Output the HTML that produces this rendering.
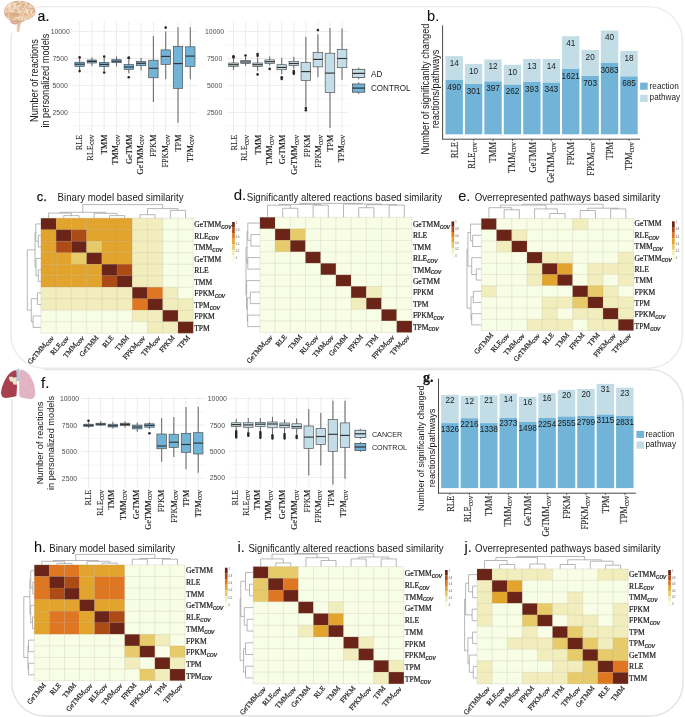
<!DOCTYPE html><html><head><meta charset="utf-8"><title>Figure</title><style>html,body{margin:0;padding:0;background:#fff;overflow:hidden}svg{display:block}</style></head><body>
<svg width="685" height="717" viewBox="0 0 685 717" font-family="'Liberation Sans', Arial, sans-serif">
<rect width="685" height="717" fill="#fff"/>
<path d="M44 6.6 H648 A34 34 0 0 1 682.4 40.6 V334.5 A33.5 33.5 0 0 1 649 368.2 H44 A33 33 0 0 1 11 335.2 V40 A34 34 0 0 1 44 6.6 Z" fill="none" stroke="#ebebeb" stroke-width="1.4"/>
<path d="M44 369.6 H650 A33 33 0 0 1 683 402.6 V683 A33 33 0 0 1 650 716 H44.5 A33 33 0 0 1 11.8 683 V402.6 A33 33 0 0 1 44 369.6 Z" fill="none" stroke="#e2e2e2" stroke-width="1.3"/>
<defs><clipPath id="brainclip"><path d="M4.6 12.6 C4.2 8.6 6.4 5.4 9.6 3.4 C12.6 1.6 16.6 1.1 20.2 1.3 C24.6 1.5 28.6 2.6 31.6 5.0 C34.4 7.3 35.4 10.4 35.0 13.0 C34.6 15.8 32.2 17.6 29.2 18.5 C26.8 19.2 24.4 20.0 22.6 21.6 L17.4 21.4 C14.6 20.8 11.6 20.6 9.0 19.2 C6.4 17.8 4.8 15.4 4.6 12.6 Z"/></clipPath></defs>
<rect x="0" y="0" width="35.6" height="31.8" fill="#fff"/>
<g>
<path d="M16.8 20.6 C17.4 23.6 16.6 28.4 16.9 31.6 C17.6 32.2 18.6 32.2 19.3 31.6 C19.4 28.6 20.2 24.6 21.8 21.4 Z" fill="#e3bf97"/>
<path d="M17.9 22.6 C18.2 25.6 17.8 28.6 17.9 31.0" stroke="#f1dcc0" stroke-width="0.7" fill="none"/>
<path d="M10.2 20.2 C12.6 19.6 16.6 19.8 18.8 20.6 C19.4 22.4 18.4 24.4 15.6 24.5 C12.8 24.6 10.4 23.2 10.2 20.2 Z" fill="#d8a59c"/>
<path d="M11.6 21.8 C13.6 22.6 15.8 22.8 17.8 22.2" stroke="#e9c3b8" stroke-width="0.6" fill="none"/>
<path d="M4.6 12.6 C4.2 8.6 6.4 5.4 9.6 3.4 C12.6 1.6 16.6 1.1 20.2 1.3 C24.6 1.5 28.6 2.6 31.6 5.0 C34.4 7.3 35.4 10.4 35.0 13.0 C34.6 15.8 32.2 17.6 29.2 18.5 C26.8 19.2 24.4 20.0 22.6 21.6 L17.4 21.4 C14.6 20.8 11.6 20.6 9.0 19.2 C6.4 17.8 4.8 15.4 4.6 12.6 Z" fill="#dfb58f" stroke="#c9966e" stroke-width="0.7"/>
<g clip-path="url(#brainclip)" stroke="#f7e7d2" stroke-width="0.8" fill="none" stroke-linecap="round">
<path d="M14.71 4.44 Q14.3 3.42 13.71 3.05"/>
<path d="M6.74 11.39 Q6.82 10.68 8.97 11.93"/>
<path d="M17.74 17.62 Q18.74 19.38 19.13 19"/>
<path d="M22.31 9.24 Q24 8.61 23.97 8.99"/>
<path d="M9.33 3.8 Q8.04 5.35 8.28 6.51"/>
<path d="M24.17 8.76 Q22.3 7.8 22.54 8.26"/>
<path d="M25.41 9.84 Q24.8 10.52 24.42 12.17"/>
<path d="M28.83 15.13 Q28.94 17.29 28.92 17.65"/>
<path d="M26.88 7.11 Q27.57 7.62 28.66 6.89"/>
<path d="M9.56 11.03 Q11.49 11.54 12.15 11.69"/>
<path d="M31.26 7.62 Q31.03 6.31 30.4 5.22"/>
<path d="M30.2 19.92 Q27.83 20.62 27.57 20.35"/>
<path d="M24.41 20.87 Q24.59 20.35 25.31 19.02"/>
<path d="M5.68 10.5 Q5.06 11.92 6.56 12.06"/>
<path d="M8.88 6.33 Q6.71 7.15 6.56 8.22"/>
<path d="M21.48 18.73 Q21.58 17.17 22.74 16.02"/>
<path d="M15.76 18.74 Q15.87 17.86 17.54 18.26"/>
<path d="M12 10.96 Q9.95 10.23 10.29 9.88"/>
<path d="M16.08 12.54 Q17.41 12.43 18.67 11.76"/>
<path d="M25.29 2.55 Q27.33 2.43 27.58 0.87"/>
<path d="M16.77 9.28 Q16.76 9.03 18.85 10.86"/>
<path d="M11.26 4.66 Q9.61 4.54 10.36 6.09"/>
<path d="M8.04 8.59 Q9.8 7.99 11 9.07"/>
<path d="M12.57 8.27 Q12.81 10.13 11.39 9.63"/>
<path d="M18.98 10.93 Q19.36 10.82 20.49 11.84"/>
<path d="M29.87 4.65 Q31.48 4.03 32.95 5.1"/>
<path d="M21.3 2.03 Q20.61 2.22 18.18 1.47"/>
<path d="M12.83 8.65 Q13.62 10.55 14.25 11.11"/>
<path d="M14.89 5.85 Q16.33 5.11 16.09 2.91"/>
<path d="M29.55 15.93 Q29.38 16 29.9 18.33"/>
<path d="M5.84 6.95 Q6.86 8.17 5.68 9.65"/>
<path d="M33.11 20.77 Q33.49 19.81 35.21 20.16"/>
<path d="M10.9 5.49 Q10.64 4.37 8.74 3.35"/>
<path d="M24.59 17.09 Q26.72 18.45 26.88 18.44"/>
<path d="M27.5 10.82 Q27.72 12.83 28.75 13.4"/>
<path d="M34.15 9.22 Q33.42 9.33 31.61 11.03"/>
<path d="M8.81 4.45 Q9.16 4.42 11.2 2.82"/>
<path d="M34.41 14.32 Q32.79 14.15 32.95 16.32"/>
<path d="M34.13 14.17 Q32.44 14.8 31.08 13.65"/>
<path d="M29.78 5.62 Q29.15 6.86 29.76 7.68"/>
<path d="M12.78 9.67 Q13.47 10.69 14.86 11.91"/>
<path d="M22.5 19.13 Q21.16 19.94 19.81 20.6"/>
<path d="M20.71 1.86 Q18.63 2.93 18.94 2.56"/>
<path d="M10.17 10.73 Q9.56 9.55 9.78 8.27"/>
<path d="M21.66 16.79 Q22.04 17.03 23.63 18.34"/>
<path d="M28.17 11.4 Q27.85 10.73 25.56 10.34"/>
<path d="M23.38 11.36 Q21.91 11.33 20.68 11.15"/>
<path d="M19.34 19.86 Q19.93 17.86 18.4 17.01"/>
<path d="M21.79 19.89 Q21.36 18.99 22.76 18.36"/>
<path d="M7.18 6.19 Q9.05 7.74 9.57 7.38"/>
<path d="M9.63 15.46 Q10.06 15.81 8.66 13.92"/>
<path d="M11.59 20.07 Q11.81 21.58 9.68 21.49"/>
<path d="M9.84 9.91 Q8.05 9.37 7.71 9.71"/>
<path d="M26.66 1.88 Q24.42 1.09 24.49 1.11"/>
<path d="M23.72 11.49 Q25.87 13.25 26.64 12.74"/>
<path d="M8.14 6.68 Q8.97 6.14 10.9 7.38"/>
<path d="M17.67 19.27 Q17.25 19.36 18.51 17.44"/>
<path d="M22.12 15.16 Q23.29 15.43 23.55 16.06"/>
<path d="M7.17 19.8 Q5.22 19.58 5.26 17.64"/>
<path d="M7 18.32 Q6.1 19.66 4.95 18.94"/>
<path d="M13.04 4.02 Q11.12 3.04 11.08 3.69"/>
<path d="M6.51 5.43 Q6.74 5.9 5.72 7.37"/>
<path d="M20 4.97 Q18.94 4.47 19.07 6.3"/>
<path d="M26.99 12.25 Q28.47 12.4 27.87 14.44"/>
<path d="M29.57 9.93 Q27.84 9.99 26.63 10.02"/>
<path d="M25.63 20.66 Q25.32 22.21 24.02 23.11"/>
<path d="M17.14 8.28 Q16.96 9.16 18.84 8.88"/>
<path d="M12.67 4.68 Q14.83 5.84 15.21 6.17"/>
<path d="M13.46 6.22 Q12.32 7.22 12.83 8.47"/>
<path d="M12.9 20.25 Q13.5 21.16 15.34 19.83"/>
<path d="M14.29 8.45 Q15.33 8.47 16.5 8.47"/>
<path d="M11.03 11.34 Q11.06 11.13 13.05 11.41"/>
<path d="M6.25 1.94 Q6.13 2.94 5.59 3.8"/>
<path d="M27.52 14.32 Q26.93 12.44 26.88 11.38"/>
<path d="M34.54 4.41 Q33.23 3.92 34.12 1.82"/>
<path d="M31.76 13.73 Q30.75 12.35 31.46 10.85"/>
<path d="M20.13 17.78 Q20.82 17.35 21.12 15.03"/>
<path d="M25.49 15.02 Q24.71 15.5 25.69 16.66"/>
<path d="M8.15 17.8 Q7.24 17.76 5.72 16.86"/>
<path d="M19.68 1.56 Q20.1 0.31 20.5 -1.11"/>
<path d="M24.78 2.79 Q23.67 1.23 24.61 0.79"/>
<path d="M26.88 5.5 Q26.76 3.64 26.68 2.35"/>
<path d="M19.37 14.83 Q19.85 12.53 19.65 12.26"/>
<path d="M9.42 6.45 Q9.54 4.24 9.33 4.37"/>
<path d="M6.82 6.74 Q6.6 5.04 5.55 4.35"/>
<path d="M20.5 10.56 Q20.57 10.03 18.75 10.94"/>
<path d="M34.34 19.76 Q36.27 21.01 36.66 20.01"/>
<path d="M18.48 6.74 Q18.18 8.44 19.26 9.75"/>
<path d="M9.25 11.72 Q10.89 11.47 10.98 11.19"/>
<path d="M31.61 15.22 Q31.75 15.58 31.96 18.23"/>
<path d="M5.11 11.09 Q3.25 11.03 3.12 11.72"/>
<path d="M14.48 17.88 Q16.7 16.99 17.28 17.92"/>
<path d="M32.79 15.4 Q33.33 14.55 34.47 14.21"/>
<path d="M34.96 12.99 Q33.69 12.78 33.5 14.74"/>
<path d="M8.05 17.78 Q7.11 18.72 7.36 20.8"/>
<path d="M20.33 5.2 Q20.16 7.07 18.14 7.44"/>
<path d="M23.93 19.31 Q25.61 17.78 26.24 18.41"/>
<path d="M26.97 10.29 Q26.48 7.89 27.01 7.66"/>
<path d="M32.8 3.98 Q31.26 4.74 30.69 4.36"/>
<path d="M34.29 6.57 Q33.85 5.46 33.13 4.84"/>
<path d="M10.02 4.65 Q10.41 5.45 10.82 7.6"/>
<path d="M32.19 20.93 Q30.58 20.23 30.45 21.5"/>
<path d="M15.26 3.28 Q15.49 5.21 15.4 5.29"/>
<path d="M27.49 9.55 Q26.15 9.79 25.4 10.81"/>
<path d="M6.86 6.91 Q7.75 7.04 8.63 6.55"/>
<path d="M30.89 5.71 Q30.51 6.57 30.62 7.69"/>
<path d="M33.62 18.05 Q33.07 17.97 34.76 16.88"/>
<path d="M31.87 10.73 Q30.93 11.34 30.5 9.9"/>
<path d="M29.77 18.18 Q29.81 17.18 31.73 17.83"/>
<path d="M20.67 14.8 Q22.31 14.94 23.24 13.81"/>
<path d="M18.72 12.25 Q19.46 13.61 21.48 12.96"/>
<path d="M24.37 7.42 Q25.39 8.62 25.75 8.87"/>
<path d="M8.36 2.87 Q6.84 2.01 5.86 2.48"/>
<path d="M23.03 1.7 Q23.76 3.16 22.29 3.92"/>
<path d="M31.51 10.77 Q32.71 12.25 31.7 12.75"/>
<path d="M14.22 1.92 Q12.69 1.36 11.54 1.95"/>
<path d="M25.02 19.54 Q24.75 20.17 25.26 21.18"/>
<path d="M25.48 5.36 Q25.89 3.32 26.29 2.7"/>
<path d="M34.1 7.58 Q33.85 7.31 34.93 5.8"/>
<path d="M13.85 20.06 Q12.23 19.89 11.95 20.11"/>
<path d="M24.96 20 Q24.95 22.03 26.31 21.77"/>
<path d="M9.26 2.51 Q11.25 3.84 11.33 3.33"/>
<path d="M26.98 20.95 Q27.19 21.55 28.91 20.07"/>
<path d="M27.39 2.12 Q26.52 0.77 26.26 0.23"/>
<path d="M10.08 1.56 Q10.97 1.72 9.68 3.68"/>
<path d="M33.93 5.54 Q33.8 6.52 32.12 7.83"/>
<path d="M6.48 10.73 Q4.67 11.51 4.34 12.94"/>
<path d="M31.91 2.09 Q31.32 1.76 29.45 3.63"/>
<path d="M6.05 2.72 Q7.52 3.19 7.81 1.75"/>
<path d="M15.17 6.81 Q15.85 6.99 17.67 6.13"/>
<path d="M14.49 6.87 Q16.9 7.23 17.3 6.94"/>
<path d="M33.3 1.97 Q34.51 4.24 33.54 4.32"/>
<path d="M16.6 6.4 Q16.54 6.14 14.43 7.41"/>
<path d="M29.08 15.9 Q29.96 14.21 30.33 13.36"/>
<path d="M14.59 8.56 Q14.03 8.32 14.93 6.87"/>
<path d="M12.42 2.76 Q13.22 4.18 14.85 3.29"/>
<path d="M31.5 20.76 Q30.45 21.62 31.34 22.49"/>
<path d="M26.29 10.22 Q26.69 11.76 26.52 12.47"/>
<path d="M27.44 18.02 Q27.8 16.75 26.52 16.48"/>
<path d="M22.01 8.77 Q21.33 7.21 21.86 6.86"/>
<path d="M9.6 18.74 Q8.41 19.42 7.73 17.74"/>
<path d="M20.22 6.01 Q21.87 3.82 21.17 3.54"/>
<path d="M19.24 17.47 Q18.96 15.69 20.89 14.89"/>
<path d="M8.58 5.2 Q10.86 4.68 11.07 4.77"/>
<path d="M30.98 10.26 Q31.96 10.73 30.81 13.1"/>
<path d="M22.88 13.59 Q22.24 13.95 23.33 15.73"/>
<path d="M12.65 13.19 Q10.92 11.99 11.53 11.62"/>
<path d="M25.35 5.11 Q25.69 6.12 24.62 6.89"/>
<path d="M6.9 3.48 Q6.25 3.25 4.94 4.99"/>
<path d="M9.91 15.06 Q8.58 16.7 8.18 16.16"/>
</g>
<path d="M9.5 15.2 C13 13.6 18 13.8 22.8 15.4" stroke="#c8946c" stroke-width="0.6" fill="none"/>
</g>
<g>
<rect x="0" y="369.0" width="44" height="30" fill="#fff"/>
<path d="M15.6 370.2 C12.0 370.4 8.6 373.6 5.8 378.6 C3.0 383.6 1.0 388.6 1.1 393.0 C1.2 396.2 2.6 397.9 5.4 397.9 C9.2 397.7 13.6 396.9 16.4 396.0 C17.0 390 17.2 380 16.8 371.4 C16.5 370.6 16.1 370.2 15.6 370.2 Z" fill="#a8404f"/>
<path d="M21.4 369.9 C25.6 370.2 29.4 374.2 31.8 379.6 C34.0 384.6 35.2 389.6 34.9 394.2 C34.7 397.6 33.0 398.8 30.2 398.7 C26.6 398.5 22.8 397.8 20.0 396.8 C19.4 390 19.4 380 19.8 371.4 C20.1 370.4 20.7 369.9 21.4 369.9 Z" fill="#e3b4c4" stroke="#d49cb0" stroke-width="0.4"/>
<circle cx="23.86" cy="385.97" r="0.3" fill="#c98aa0"/>
<circle cx="25.44" cy="387.29" r="0.3" fill="#c98aa0"/>
<circle cx="28.51" cy="375.44" r="0.3" fill="#c98aa0"/>
<circle cx="21.16" cy="392.42" r="0.3" fill="#c98aa0"/>
<circle cx="24.11" cy="379.16" r="0.3" fill="#c98aa0"/>
<circle cx="32.95" cy="384.35" r="0.3" fill="#c98aa0"/>
<circle cx="31.04" cy="384.48" r="0.3" fill="#c98aa0"/>
<circle cx="28.67" cy="377.31" r="0.3" fill="#c98aa0"/>
<circle cx="28.62" cy="393.1" r="0.3" fill="#c98aa0"/>
<circle cx="27.28" cy="390.31" r="0.3" fill="#c98aa0"/>
<circle cx="29.06" cy="375.41" r="0.3" fill="#c98aa0"/>
<circle cx="30.1" cy="387" r="0.3" fill="#c98aa0"/>
<circle cx="24.62" cy="374.68" r="0.3" fill="#c98aa0"/>
<circle cx="31.39" cy="384.4" r="0.3" fill="#c98aa0"/>
<circle cx="29.63" cy="393.33" r="0.3" fill="#c98aa0"/>
<circle cx="29.57" cy="394.26" r="0.3" fill="#c98aa0"/>
<circle cx="25.74" cy="391.62" r="0.3" fill="#c98aa0"/>
<circle cx="26.34" cy="394.58" r="0.3" fill="#c98aa0"/>
<circle cx="31.55" cy="376.14" r="0.3" fill="#c98aa0"/>
<circle cx="22.63" cy="378.77" r="0.3" fill="#c98aa0"/>
<circle cx="32.59" cy="383.6" r="0.3" fill="#c98aa0"/>
<circle cx="28.52" cy="380.62" r="0.3" fill="#c98aa0"/>
<path d="M9.0 377.0 L11.6 376.4 L13.4 377.6 L16.9 377.2 L16.9 384.8 L13.6 384.6 L12.4 381.8 L10.4 381.4 L9.2 379.6 Z" fill="#ece2c8"/>
<rect x="16.6" y="368.8" width="2.8" height="12.2" fill="#a7c2d6"/>
<path d="M17.9 369.2 V380.6" stroke="#c4d7e4" stroke-width="0.6"/>
</g>
<text x="37.6" y="21.1" font-size="14" font-family="'Liberation Sans', Arial, sans-serif" fill="#111" stroke="#111" stroke-width="0.2">a.</text>
<text x="427.1" y="21.2" font-size="14.6" font-family="'Liberation Sans', Arial, sans-serif" fill="#111" stroke="#111" stroke-width="0.05">b.</text>
<text x="36.8" y="201" font-size="12.8" font-family="'Liberation Sans', Arial, sans-serif" fill="#111" stroke="#111" stroke-width="0.25">c.</text>
<text x="233.7" y="200.4" font-size="15" font-family="'Liberation Sans', Arial, sans-serif" fill="#111" stroke="#111" stroke-width="0.05">d.</text>
<text x="458.2" y="200.7" font-size="14.6" font-family="'Liberation Sans', Arial, sans-serif" fill="#111" stroke="#111" stroke-width="0.05">e.</text>
<text x="41" y="387.7" font-size="15" font-family="'Liberation Sans', Arial, sans-serif" fill="#111" stroke="#111" stroke-width="0.15">f.</text>
<text x="423" y="382.2" font-size="14" font-family="'Liberation Serif', 'Times New Roman', serif" fill="#111" stroke="#111" stroke-width="0.25" font-weight="bold">g.</text>
<text x="33.9" y="551.8" font-size="14.5" font-family="'Liberation Sans', Arial, sans-serif" fill="#111" stroke="#111" stroke-width="0.05">h.</text>
<text x="237.5" y="551.8" font-size="14.5" font-family="'Liberation Sans', Arial, sans-serif" fill="#111" stroke="#111" stroke-width="0.05">i.</text>
<text x="464.6" y="552.4" font-size="14.5" font-family="'Liberation Sans', Arial, sans-serif" fill="#111" stroke="#111" stroke-width="0.05">j.</text>
<text transform="translate(57.6 201.2) scale(0.95 1)" font-size="10.21" fill="#1a1a1a">Binary model based similarity</text>
<text transform="translate(246.7 201) scale(0.95 1)" font-size="10.21" fill="#1a1a1a">Significantly altered reactions based similarity</text>
<text transform="translate(474.7 201) scale(0.95 1)" font-size="10.21" fill="#1a1a1a">Overrepresented pathways based similarity</text>
<text transform="translate(49.2 551.6) scale(0.95 1)" font-size="10.21" fill="#1a1a1a">Binary model based similarity</text>
<text transform="translate(248.4 551.8) scale(0.95 1)" font-size="10.21" fill="#1a1a1a">Significantly altered reactions based similarity</text>
<text transform="translate(475.1 552.2) scale(0.95 1)" font-size="10.21" fill="#1a1a1a">Overrepresented pathways based similarity</text>
<text transform="translate(37.6 80.6) rotate(-90) scale(0.9 1)" font-size="10.22" fill="#1a1a1a" text-anchor="middle">Number of reactions</text>
<text transform="translate(48.6 80.6) rotate(-90) scale(0.9 1)" font-size="10.22" fill="#1a1a1a" text-anchor="middle">in personalized models</text>
<line x1="72.3" y1="44.9" x2="197.8" y2="44.9" stroke="#f2f2f2" stroke-width="0.7"/>
<line x1="72.3" y1="71.9" x2="197.8" y2="71.9" stroke="#f2f2f2" stroke-width="0.7"/>
<line x1="72.3" y1="98.9" x2="197.8" y2="98.9" stroke="#f2f2f2" stroke-width="0.7"/>
<line x1="72.3" y1="125.9" x2="197.8" y2="125.9" stroke="#f2f2f2" stroke-width="0.7"/>
<line x1="72.3" y1="31.4" x2="197.8" y2="31.4" stroke="#e8e8e8" stroke-width="0.8"/>
<line x1="72.3" y1="58.4" x2="197.8" y2="58.4" stroke="#e8e8e8" stroke-width="0.8"/>
<line x1="72.3" y1="85.4" x2="197.8" y2="85.4" stroke="#e8e8e8" stroke-width="0.8"/>
<line x1="72.3" y1="112.4" x2="197.8" y2="112.4" stroke="#e8e8e8" stroke-width="0.8"/>
<line x1="79.6" y1="22" x2="79.6" y2="132.5" stroke="#e8e8e8" stroke-width="0.8"/>
<line x1="91.9" y1="22" x2="91.9" y2="132.5" stroke="#e8e8e8" stroke-width="0.8"/>
<line x1="104.2" y1="22" x2="104.2" y2="132.5" stroke="#e8e8e8" stroke-width="0.8"/>
<line x1="116.5" y1="22" x2="116.5" y2="132.5" stroke="#e8e8e8" stroke-width="0.8"/>
<line x1="128.8" y1="22" x2="128.8" y2="132.5" stroke="#e8e8e8" stroke-width="0.8"/>
<line x1="141.1" y1="22" x2="141.1" y2="132.5" stroke="#e8e8e8" stroke-width="0.8"/>
<line x1="153.4" y1="22" x2="153.4" y2="132.5" stroke="#e8e8e8" stroke-width="0.8"/>
<line x1="165.7" y1="22" x2="165.7" y2="132.5" stroke="#e8e8e8" stroke-width="0.8"/>
<line x1="178" y1="22" x2="178" y2="132.5" stroke="#e8e8e8" stroke-width="0.8"/>
<line x1="190.3" y1="22" x2="190.3" y2="132.5" stroke="#e8e8e8" stroke-width="0.8"/>
<text transform="translate(60.2 34.16) scale(0.87 1)" font-size="7.93" fill="#4d4d4d" text-anchor="middle">10000</text>
<text transform="translate(60.2 61.16) scale(0.87 1)" font-size="7.93" fill="#4d4d4d" text-anchor="middle">7500</text>
<text transform="translate(60.2 88.16) scale(0.87 1)" font-size="7.93" fill="#4d4d4d" text-anchor="middle">5000</text>
<text transform="translate(60.2 115.16) scale(0.87 1)" font-size="7.93" fill="#4d4d4d" text-anchor="middle">2500</text>
<line x1="79.6" y1="58.5" x2="79.6" y2="70" stroke="#6e6e6e" stroke-width="1.1"/>
<rect x="74.9" y="62.2" width="9.4" height="4.2" fill="#72b4d8" stroke="#4a4a4a" stroke-width="0.65"/>
<line x1="74.9" y1="64.2" x2="84.3" y2="64.2" stroke="#333" stroke-width="1.15"/>
<circle cx="79.6" cy="57.4" r="1.3" fill="#262626"/>
<circle cx="79.6" cy="71.1" r="1.3" fill="#262626"/>
<line x1="91.9" y1="57.2" x2="91.9" y2="66.1" stroke="#6e6e6e" stroke-width="1.1"/>
<rect x="87.2" y="60" width="9.4" height="3" fill="#72b4d8" stroke="#4a4a4a" stroke-width="0.65"/>
<line x1="87.2" y1="61.4" x2="96.6" y2="61.4" stroke="#333" stroke-width="1.15"/>
<line x1="104.2" y1="58" x2="104.2" y2="71" stroke="#6e6e6e" stroke-width="1.1"/>
<rect x="99.5" y="62.5" width="9.4" height="4.1" fill="#72b4d8" stroke="#4a4a4a" stroke-width="0.65"/>
<line x1="99.5" y1="64.4" x2="108.9" y2="64.4" stroke="#333" stroke-width="1.15"/>
<circle cx="104.2" cy="56.6" r="1.3" fill="#262626"/>
<circle cx="104.2" cy="72.5" r="1.3" fill="#262626"/>
<line x1="116.5" y1="56.4" x2="116.5" y2="66.6" stroke="#6e6e6e" stroke-width="1.1"/>
<rect x="111.8" y="59.7" width="9.4" height="3" fill="#72b4d8" stroke="#4a4a4a" stroke-width="0.65"/>
<line x1="111.8" y1="61.2" x2="121.2" y2="61.2" stroke="#333" stroke-width="1.15"/>
<line x1="128.8" y1="60" x2="128.8" y2="73.3" stroke="#6e6e6e" stroke-width="1.1"/>
<rect x="124.1" y="64.6" width="9.4" height="4.8" fill="#72b4d8" stroke="#4a4a4a" stroke-width="0.65"/>
<line x1="124.1" y1="67" x2="133.5" y2="67" stroke="#333" stroke-width="1.15"/>
<circle cx="128.8" cy="57.5" r="1.3" fill="#262626"/>
<circle cx="128.8" cy="58.3" r="1.3" fill="#262626"/>
<circle cx="128.8" cy="77.2" r="1.3" fill="#262626"/>
<line x1="141.1" y1="57.8" x2="141.1" y2="70.5" stroke="#6e6e6e" stroke-width="1.1"/>
<rect x="136.4" y="61.3" width="9.4" height="4.4" fill="#72b4d8" stroke="#4a4a4a" stroke-width="0.65"/>
<line x1="136.4" y1="63.3" x2="145.8" y2="63.3" stroke="#333" stroke-width="1.15"/>
<line x1="153.4" y1="36" x2="153.4" y2="102.1" stroke="#6e6e6e" stroke-width="1.1"/>
<rect x="148.7" y="60.2" width="9.4" height="17.6" fill="#72b4d8" stroke="#4a4a4a" stroke-width="0.65"/>
<line x1="148.7" y1="68.3" x2="158.1" y2="68.3" stroke="#333" stroke-width="1.15"/>
<line x1="165.7" y1="31.5" x2="165.7" y2="79.2" stroke="#6e6e6e" stroke-width="1.1"/>
<rect x="161" y="49.9" width="9.4" height="14.5" fill="#72b4d8" stroke="#4a4a4a" stroke-width="0.65"/>
<line x1="161" y1="56.4" x2="170.4" y2="56.4" stroke="#333" stroke-width="1.15"/>
<circle cx="165.7" cy="27.6" r="1.3" fill="#262626"/>
<line x1="178" y1="27.2" x2="178" y2="122.8" stroke="#6e6e6e" stroke-width="1.1"/>
<rect x="173.3" y="46.3" width="9.4" height="42.1" fill="#72b4d8" stroke="#4a4a4a" stroke-width="0.65"/>
<line x1="173.3" y1="63.6" x2="182.7" y2="63.6" stroke="#333" stroke-width="1.15"/>
<line x1="190.3" y1="27.2" x2="190.3" y2="79.2" stroke="#6e6e6e" stroke-width="1.1"/>
<rect x="185.6" y="46.8" width="9.4" height="19.6" fill="#72b4d8" stroke="#4a4a4a" stroke-width="0.65"/>
<line x1="185.6" y1="56.1" x2="195" y2="56.1" stroke="#333" stroke-width="1.15"/>
<text transform="translate(82.2 134.6) rotate(-90) scale(0.92 1)" font-family="'Liberation Serif', 'Times New Roman', serif" font-size="9" fill="#1a1a1a" stroke="#1a1a1a" stroke-width="0.12" text-anchor="end">RLE</text>
<text transform="translate(92.5 134.6) rotate(-90) scale(0.92 1)" font-family="'Liberation Serif', 'Times New Roman', serif" font-size="9" fill="#1a1a1a" stroke="#1a1a1a" stroke-width="0.12" text-anchor="end">RLE<tspan style="font-size:7.9px;" dy="1.5">cov</tspan></text>
<text transform="translate(106.8 134.6) rotate(-90) scale(0.92 1)" font-family="'Liberation Serif', 'Times New Roman', serif" font-size="9" fill="#1a1a1a" stroke="#1a1a1a" stroke-width="0.12" text-anchor="end">TMM</text>
<text transform="translate(118.2 134.6) rotate(-90) scale(0.92 1)" font-family="'Liberation Serif', 'Times New Roman', serif" font-size="9" fill="#1a1a1a" stroke="#1a1a1a" stroke-width="0.12" text-anchor="end">TMM<tspan style="font-size:7.9px;" dy="1.5">cov</tspan></text>
<text transform="translate(131.8 134.6) rotate(-90) scale(0.92 1)" font-family="'Liberation Serif', 'Times New Roman', serif" font-size="9" fill="#1a1a1a" stroke="#1a1a1a" stroke-width="0.12" text-anchor="end">GeTMM</text>
<text transform="translate(142.7 134.6) rotate(-90) scale(0.92 1)" font-family="'Liberation Serif', 'Times New Roman', serif" font-size="9" fill="#1a1a1a" stroke="#1a1a1a" stroke-width="0.12" text-anchor="end">GeTMM<tspan style="font-size:7.9px;" dy="1.5">cov</tspan></text>
<text transform="translate(156.2 134.6) rotate(-90) scale(0.92 1)" font-family="'Liberation Serif', 'Times New Roman', serif" font-size="9" fill="#1a1a1a" stroke="#1a1a1a" stroke-width="0.12" text-anchor="end">FPKM</text>
<text transform="translate(168.1 134.6) rotate(-90) scale(0.92 1)" font-family="'Liberation Serif', 'Times New Roman', serif" font-size="9" fill="#1a1a1a" stroke="#1a1a1a" stroke-width="0.12" text-anchor="end">FPKM<tspan style="font-size:7.9px;" dy="1.5">cov</tspan></text>
<text transform="translate(181.3 134.6) rotate(-90) scale(0.92 1)" font-family="'Liberation Serif', 'Times New Roman', serif" font-size="9" fill="#1a1a1a" stroke="#1a1a1a" stroke-width="0.12" text-anchor="end">TPM</text>
<text transform="translate(192.7 134.6) rotate(-90) scale(0.92 1)" font-family="'Liberation Serif', 'Times New Roman', serif" font-size="9" fill="#1a1a1a" stroke="#1a1a1a" stroke-width="0.12" text-anchor="end">TPM<tspan style="font-size:7.9px;" dy="1.5">cov</tspan></text>
<line x1="226.8" y1="44.9" x2="348.7" y2="44.9" stroke="#f2f2f2" stroke-width="0.7"/>
<line x1="226.8" y1="71.9" x2="348.7" y2="71.9" stroke="#f2f2f2" stroke-width="0.7"/>
<line x1="226.8" y1="98.9" x2="348.7" y2="98.9" stroke="#f2f2f2" stroke-width="0.7"/>
<line x1="226.8" y1="125.9" x2="348.7" y2="125.9" stroke="#f2f2f2" stroke-width="0.7"/>
<line x1="226.8" y1="31.4" x2="348.7" y2="31.4" stroke="#e8e8e8" stroke-width="0.8"/>
<line x1="226.8" y1="58.4" x2="348.7" y2="58.4" stroke="#e8e8e8" stroke-width="0.8"/>
<line x1="226.8" y1="85.4" x2="348.7" y2="85.4" stroke="#e8e8e8" stroke-width="0.8"/>
<line x1="226.8" y1="112.4" x2="348.7" y2="112.4" stroke="#e8e8e8" stroke-width="0.8"/>
<line x1="233.5" y1="22" x2="233.5" y2="132.5" stroke="#e8e8e8" stroke-width="0.8"/>
<line x1="245.56" y1="22" x2="245.56" y2="132.5" stroke="#e8e8e8" stroke-width="0.8"/>
<line x1="257.62" y1="22" x2="257.62" y2="132.5" stroke="#e8e8e8" stroke-width="0.8"/>
<line x1="269.68" y1="22" x2="269.68" y2="132.5" stroke="#e8e8e8" stroke-width="0.8"/>
<line x1="281.74" y1="22" x2="281.74" y2="132.5" stroke="#e8e8e8" stroke-width="0.8"/>
<line x1="293.8" y1="22" x2="293.8" y2="132.5" stroke="#e8e8e8" stroke-width="0.8"/>
<line x1="305.86" y1="22" x2="305.86" y2="132.5" stroke="#e8e8e8" stroke-width="0.8"/>
<line x1="317.92" y1="22" x2="317.92" y2="132.5" stroke="#e8e8e8" stroke-width="0.8"/>
<line x1="329.98" y1="22" x2="329.98" y2="132.5" stroke="#e8e8e8" stroke-width="0.8"/>
<line x1="342.04" y1="22" x2="342.04" y2="132.5" stroke="#e8e8e8" stroke-width="0.8"/>
<text transform="translate(214.6 34.16) scale(0.87 1)" font-size="7.93" fill="#4d4d4d" text-anchor="middle">10000</text>
<text transform="translate(214.6 61.16) scale(0.87 1)" font-size="7.93" fill="#4d4d4d" text-anchor="middle">7500</text>
<text transform="translate(214.6 88.16) scale(0.87 1)" font-size="7.93" fill="#4d4d4d" text-anchor="middle">5000</text>
<text transform="translate(214.6 115.16) scale(0.87 1)" font-size="7.93" fill="#4d4d4d" text-anchor="middle">2500</text>
<line x1="233.5" y1="58.5" x2="233.5" y2="69.9" stroke="#6e6e6e" stroke-width="1.1"/>
<rect x="228.7" y="63" width="9.6" height="3.4" fill="#c3dee9" stroke="#4a4a4a" stroke-width="0.65"/>
<line x1="228.7" y1="64.7" x2="238.3" y2="64.7" stroke="#333" stroke-width="1.15"/>
<circle cx="233.5" cy="56.2" r="1.3" fill="#262626"/>
<circle cx="233.5" cy="57.4" r="1.3" fill="#262626"/>
<line x1="245.56" y1="57" x2="245.56" y2="66" stroke="#6e6e6e" stroke-width="1.1"/>
<rect x="240.76" y="60.5" width="9.6" height="3" fill="#c3dee9" stroke="#4a4a4a" stroke-width="0.65"/>
<line x1="240.76" y1="62" x2="250.36" y2="62" stroke="#333" stroke-width="1.15"/>
<circle cx="245.56" cy="55.5" r="1.3" fill="#262626"/>
<line x1="257.62" y1="57.5" x2="257.62" y2="71" stroke="#6e6e6e" stroke-width="1.1"/>
<rect x="252.82" y="63" width="9.6" height="3.5" fill="#c3dee9" stroke="#4a4a4a" stroke-width="0.65"/>
<line x1="252.82" y1="64.7" x2="262.42" y2="64.7" stroke="#333" stroke-width="1.15"/>
<circle cx="257.62" cy="54" r="1.3" fill="#262626"/>
<circle cx="257.62" cy="55.7" r="1.3" fill="#262626"/>
<circle cx="257.62" cy="74.4" r="1.3" fill="#262626"/>
<line x1="269.68" y1="56.5" x2="269.68" y2="65.5" stroke="#6e6e6e" stroke-width="1.1"/>
<rect x="264.88" y="59.9" width="9.6" height="3.6" fill="#c3dee9" stroke="#4a4a4a" stroke-width="0.65"/>
<line x1="264.88" y1="61.7" x2="274.48" y2="61.7" stroke="#333" stroke-width="1.15"/>
<circle cx="269.68" cy="68.9" r="1.3" fill="#262626"/>
<line x1="281.74" y1="57.7" x2="281.74" y2="74" stroke="#6e6e6e" stroke-width="1.1"/>
<rect x="276.94" y="64.7" width="9.6" height="5" fill="#c3dee9" stroke="#4a4a4a" stroke-width="0.65"/>
<line x1="276.94" y1="67.4" x2="286.54" y2="67.4" stroke="#333" stroke-width="1.15"/>
<circle cx="281.74" cy="77.3" r="1.3" fill="#262626"/>
<circle cx="281.74" cy="79" r="1.3" fill="#262626"/>
<line x1="293.8" y1="56.8" x2="293.8" y2="69" stroke="#6e6e6e" stroke-width="1.1"/>
<rect x="289" y="61.4" width="9.6" height="4.1" fill="#c3dee9" stroke="#4a4a4a" stroke-width="0.65"/>
<line x1="289" y1="63.5" x2="298.6" y2="63.5" stroke="#333" stroke-width="1.15"/>
<circle cx="293.8" cy="71.1" r="1.3" fill="#262626"/>
<circle cx="293.8" cy="72.5" r="1.3" fill="#262626"/>
<circle cx="293.8" cy="73.8" r="1.3" fill="#262626"/>
<line x1="305.86" y1="36.8" x2="305.86" y2="106.2" stroke="#6e6e6e" stroke-width="1.1"/>
<rect x="301.06" y="62.4" width="9.6" height="18.2" fill="#c3dee9" stroke="#4a4a4a" stroke-width="0.65"/>
<line x1="301.06" y1="71.6" x2="310.66" y2="71.6" stroke="#333" stroke-width="1.15"/>
<circle cx="305.86" cy="108" r="1.3" fill="#262626"/>
<circle cx="305.86" cy="110.3" r="1.3" fill="#262626"/>
<line x1="317.92" y1="34.2" x2="317.92" y2="77.3" stroke="#6e6e6e" stroke-width="1.1"/>
<rect x="313.12" y="52.3" width="9.6" height="14.6" fill="#c3dee9" stroke="#4a4a4a" stroke-width="0.65"/>
<line x1="313.12" y1="59.4" x2="322.72" y2="59.4" stroke="#333" stroke-width="1.15"/>
<circle cx="317.92" cy="30.1" r="1.3" fill="#262626"/>
<line x1="329.98" y1="28" x2="329.98" y2="128" stroke="#6e6e6e" stroke-width="1.1"/>
<rect x="325.18" y="53.2" width="9.6" height="39.3" fill="#c3dee9" stroke="#4a4a4a" stroke-width="0.65"/>
<line x1="325.18" y1="73.1" x2="334.78" y2="73.1" stroke="#333" stroke-width="1.15"/>
<line x1="342.04" y1="28.4" x2="342.04" y2="80" stroke="#6e6e6e" stroke-width="1.1"/>
<rect x="337.24" y="49.3" width="9.6" height="18.4" fill="#c3dee9" stroke="#4a4a4a" stroke-width="0.65"/>
<line x1="337.24" y1="58.5" x2="346.84" y2="58.5" stroke="#333" stroke-width="1.15"/>
<text transform="translate(236.9 134.8) rotate(-90) scale(0.92 1)" font-family="'Liberation Serif', 'Times New Roman', serif" font-size="9" fill="#1a1a1a" stroke="#1a1a1a" stroke-width="0.12" text-anchor="end">RLE</text>
<text transform="translate(247.46 134.8) rotate(-90) scale(0.92 1)" font-family="'Liberation Serif', 'Times New Roman', serif" font-size="9" fill="#1a1a1a" stroke="#1a1a1a" stroke-width="0.12" text-anchor="end">RLE<tspan style="font-size:7.9px;" dy="1.5">cov</tspan></text>
<text transform="translate(260.82 134.8) rotate(-90) scale(0.92 1)" font-family="'Liberation Serif', 'Times New Roman', serif" font-size="9" fill="#1a1a1a" stroke="#1a1a1a" stroke-width="0.12" text-anchor="end">TMM</text>
<text transform="translate(272.18 134.8) rotate(-90) scale(0.92 1)" font-family="'Liberation Serif', 'Times New Roman', serif" font-size="9" fill="#1a1a1a" stroke="#1a1a1a" stroke-width="0.12" text-anchor="end">TMM<tspan style="font-size:7.9px;" dy="1.5">cov</tspan></text>
<text transform="translate(285.24 134.8) rotate(-90) scale(0.92 1)" font-family="'Liberation Serif', 'Times New Roman', serif" font-size="9" fill="#1a1a1a" stroke="#1a1a1a" stroke-width="0.12" text-anchor="end">GeTMM</text>
<text transform="translate(297.1 134.8) rotate(-90) scale(0.92 1)" font-family="'Liberation Serif', 'Times New Roman', serif" font-size="9" fill="#1a1a1a" stroke="#1a1a1a" stroke-width="0.12" text-anchor="end">GeTMM<tspan style="font-size:7.9px;" dy="1.5">cov</tspan></text>
<text transform="translate(310.06 134.8) rotate(-90) scale(0.92 1)" font-family="'Liberation Serif', 'Times New Roman', serif" font-size="9" fill="#1a1a1a" stroke="#1a1a1a" stroke-width="0.12" text-anchor="end">FPKM</text>
<text transform="translate(321.02 134.8) rotate(-90) scale(0.92 1)" font-family="'Liberation Serif', 'Times New Roman', serif" font-size="9" fill="#1a1a1a" stroke="#1a1a1a" stroke-width="0.12" text-anchor="end">FPKM<tspan style="font-size:7.9px;" dy="1.5">cov</tspan></text>
<text transform="translate(332.88 134.8) rotate(-90) scale(0.92 1)" font-family="'Liberation Serif', 'Times New Roman', serif" font-size="9" fill="#1a1a1a" stroke="#1a1a1a" stroke-width="0.12" text-anchor="end">TPM</text>
<text transform="translate(343.94 134.8) rotate(-90) scale(0.92 1)" font-family="'Liberation Serif', 'Times New Roman', serif" font-size="9" fill="#1a1a1a" stroke="#1a1a1a" stroke-width="0.12" text-anchor="end">TPM<tspan style="font-size:7.9px;" dy="1.5">cov</tspan></text>
<line x1="358.7" y1="67.4" x2="358.7" y2="79.4" stroke="#6e6e6e" stroke-width="0.9"/>
<rect x="352.6" y="69.3" width="12.2" height="8.2" fill="#c3dee9" stroke="#454545" stroke-width="0.75"/>
<line x1="352.6" y1="73.4" x2="364.8" y2="73.4" stroke="#2e2e2e" stroke-width="1.2"/>
<line x1="358.7" y1="82.1" x2="358.7" y2="94.1" stroke="#6e6e6e" stroke-width="0.9"/>
<rect x="352.6" y="84" width="12.2" height="8.2" fill="#72b4d8" stroke="#454545" stroke-width="0.75"/>
<line x1="352.6" y1="88.1" x2="364.8" y2="88.1" stroke="#2e2e2e" stroke-width="1.2"/>
<text transform="translate(371 76.7) scale(0.95 1)" font-size="8.53" fill="#1a1a1a">AD</text>
<text transform="translate(371 91.3) scale(0.95 1)" font-size="8.53" fill="#1a1a1a">CONTROL</text>
<text transform="translate(428.9 89) rotate(-90) scale(0.9 1)" font-size="10.22" fill="#1a1a1a" text-anchor="middle">Number of significanlty changed</text>
<text transform="translate(439.2 89) rotate(-90) scale(0.9 1)" font-size="10.22" fill="#1a1a1a" text-anchor="middle">reactions/pathways</text>
<line x1="442.6" y1="25.3" x2="442.6" y2="139.2" stroke="#333" stroke-width="0.9"/>
<line x1="442.2" y1="139.2" x2="640.1" y2="139.2" stroke="#333" stroke-width="0.9"/>
<rect x="445.5" y="56.1" width="17.4" height="23.8" fill="#c3dde7"/>
<rect x="445.5" y="79.9" width="17.4" height="54.4" fill="#72b4d7"/>
<text transform="translate(454.2 65.7) scale(0.95 1)" font-size="8.63" fill="#1a1a1a" text-anchor="middle">14</text>
<text transform="translate(454.2 89.6) scale(0.95 1)" font-size="8.63" fill="#1a1a1a" text-anchor="middle">490</text>
<rect x="464.92" y="63.9" width="17.4" height="20" fill="#c3dde7"/>
<rect x="464.92" y="83.9" width="17.4" height="50.4" fill="#72b4d7"/>
<text transform="translate(473.62 73.5) scale(0.95 1)" font-size="8.63" fill="#1a1a1a" text-anchor="middle">10</text>
<text transform="translate(473.62 93.6) scale(0.95 1)" font-size="8.63" fill="#1a1a1a" text-anchor="middle">301</text>
<rect x="484.34" y="59.5" width="17.4" height="21.9" fill="#c3dde7"/>
<rect x="484.34" y="81.4" width="17.4" height="52.9" fill="#72b4d7"/>
<text transform="translate(493.04 69.1) scale(0.95 1)" font-size="8.63" fill="#1a1a1a" text-anchor="middle">12</text>
<text transform="translate(493.04 91.1) scale(0.95 1)" font-size="8.63" fill="#1a1a1a" text-anchor="middle">397</text>
<rect x="503.76" y="64.9" width="17.4" height="19.8" fill="#c3dde7"/>
<rect x="503.76" y="84.7" width="17.4" height="49.6" fill="#72b4d7"/>
<text transform="translate(512.46 74.5) scale(0.95 1)" font-size="8.63" fill="#1a1a1a" text-anchor="middle">10</text>
<text transform="translate(512.46 94.4) scale(0.95 1)" font-size="8.63" fill="#1a1a1a" text-anchor="middle">262</text>
<rect x="523.18" y="59" width="17.4" height="22.8" fill="#c3dde7"/>
<rect x="523.18" y="81.8" width="17.4" height="52.5" fill="#72b4d7"/>
<text transform="translate(531.88 68.6) scale(0.95 1)" font-size="8.63" fill="#1a1a1a" text-anchor="middle">13</text>
<text transform="translate(531.88 91.5) scale(0.95 1)" font-size="8.63" fill="#1a1a1a" text-anchor="middle">393</text>
<rect x="542.6" y="59" width="17.4" height="23.6" fill="#c3dde7"/>
<rect x="542.6" y="82.6" width="17.4" height="51.7" fill="#72b4d7"/>
<text transform="translate(551.3 68.6) scale(0.95 1)" font-size="8.63" fill="#1a1a1a" text-anchor="middle">14</text>
<text transform="translate(551.3 92.3) scale(0.95 1)" font-size="8.63" fill="#1a1a1a" text-anchor="middle">343</text>
<rect x="562.02" y="36.2" width="17.4" height="32.7" fill="#c3dde7"/>
<rect x="562.02" y="68.9" width="17.4" height="65.4" fill="#72b4d7"/>
<text transform="translate(570.72 45.8) scale(0.95 1)" font-size="8.63" fill="#1a1a1a" text-anchor="middle">41</text>
<text transform="translate(570.72 78.6) scale(0.95 1)" font-size="8.63" fill="#1a1a1a" text-anchor="middle">1621</text>
<rect x="581.44" y="49.9" width="17.4" height="26.1" fill="#c3dde7"/>
<rect x="581.44" y="76" width="17.4" height="58.3" fill="#72b4d7"/>
<text transform="translate(590.14 59.5) scale(0.95 1)" font-size="8.63" fill="#1a1a1a" text-anchor="middle">20</text>
<text transform="translate(590.14 85.7) scale(0.95 1)" font-size="8.63" fill="#1a1a1a" text-anchor="middle">703</text>
<rect x="600.86" y="30.6" width="17.4" height="32.3" fill="#c3dde7"/>
<rect x="600.86" y="62.9" width="17.4" height="71.4" fill="#72b4d7"/>
<text transform="translate(609.56 40.2) scale(0.95 1)" font-size="8.63" fill="#1a1a1a" text-anchor="middle">40</text>
<text transform="translate(609.56 72.6) scale(0.95 1)" font-size="8.63" fill="#1a1a1a" text-anchor="middle">3083</text>
<rect x="620.28" y="50.9" width="17.4" height="25.5" fill="#c3dde7"/>
<rect x="620.28" y="76.4" width="17.4" height="57.9" fill="#72b4d7"/>
<text transform="translate(628.98 60.5) scale(0.95 1)" font-size="8.63" fill="#1a1a1a" text-anchor="middle">18</text>
<text transform="translate(628.98 86.1) scale(0.95 1)" font-size="8.63" fill="#1a1a1a" text-anchor="middle">685</text>
<line x1="454.2" y1="139.2" x2="454.2" y2="140.9" stroke="#333" stroke-width="0.8"/>
<line x1="473.62" y1="139.2" x2="473.62" y2="140.9" stroke="#333" stroke-width="0.8"/>
<line x1="493.04" y1="139.2" x2="493.04" y2="140.9" stroke="#333" stroke-width="0.8"/>
<line x1="512.46" y1="139.2" x2="512.46" y2="140.9" stroke="#333" stroke-width="0.8"/>
<line x1="531.88" y1="139.2" x2="531.88" y2="140.9" stroke="#333" stroke-width="0.8"/>
<line x1="551.3" y1="139.2" x2="551.3" y2="140.9" stroke="#333" stroke-width="0.8"/>
<line x1="570.72" y1="139.2" x2="570.72" y2="140.9" stroke="#333" stroke-width="0.8"/>
<line x1="590.14" y1="139.2" x2="590.14" y2="140.9" stroke="#333" stroke-width="0.8"/>
<line x1="609.56" y1="139.2" x2="609.56" y2="140.9" stroke="#333" stroke-width="0.8"/>
<line x1="628.98" y1="139.2" x2="628.98" y2="140.9" stroke="#333" stroke-width="0.8"/>
<text transform="translate(457.8 142) rotate(-90) scale(0.92 1)" font-family="'Liberation Serif', 'Times New Roman', serif" font-size="9.3" fill="#1a1a1a" stroke="#1a1a1a" stroke-width="0.12" text-anchor="end">RLE</text>
<text transform="translate(475.32 142) rotate(-90) scale(0.92 1)" font-family="'Liberation Serif', 'Times New Roman', serif" font-size="9.3" fill="#1a1a1a" stroke="#1a1a1a" stroke-width="0.12" text-anchor="end">RLE<tspan style="font-size:7.9px;" dy="1.7">cov</tspan></text>
<text transform="translate(496.44 142) rotate(-90) scale(0.92 1)" font-family="'Liberation Serif', 'Times New Roman', serif" font-size="9.3" fill="#1a1a1a" stroke="#1a1a1a" stroke-width="0.12" text-anchor="end">TMM</text>
<text transform="translate(514.56 142) rotate(-90) scale(0.92 1)" font-family="'Liberation Serif', 'Times New Roman', serif" font-size="9.3" fill="#1a1a1a" stroke="#1a1a1a" stroke-width="0.12" text-anchor="end">TMM<tspan style="font-size:7.9px;" dy="1.7">cov</tspan></text>
<text transform="translate(535.58 142) rotate(-90) scale(0.92 1)" font-family="'Liberation Serif', 'Times New Roman', serif" font-size="9.3" fill="#1a1a1a" stroke="#1a1a1a" stroke-width="0.12" text-anchor="end">GeTMM</text>
<text transform="translate(554.3 142) rotate(-90) scale(0.92 1)" font-family="'Liberation Serif', 'Times New Roman', serif" font-size="9.3" fill="#1a1a1a" stroke="#1a1a1a" stroke-width="0.12" text-anchor="end">GeTMM<tspan style="font-size:7.9px;" dy="1.7">cov</tspan></text>
<text transform="translate(574.32 142) rotate(-90) scale(0.92 1)" font-family="'Liberation Serif', 'Times New Roman', serif" font-size="9.3" fill="#1a1a1a" stroke="#1a1a1a" stroke-width="0.12" text-anchor="end">FPKM</text>
<text transform="translate(593.54 142) rotate(-90) scale(0.92 1)" font-family="'Liberation Serif', 'Times New Roman', serif" font-size="9.3" fill="#1a1a1a" stroke="#1a1a1a" stroke-width="0.12" text-anchor="end">FPKM<tspan style="font-size:7.9px;" dy="1.7">cov</tspan></text>
<text transform="translate(612.86 142) rotate(-90) scale(0.92 1)" font-family="'Liberation Serif', 'Times New Roman', serif" font-size="9.3" fill="#1a1a1a" stroke="#1a1a1a" stroke-width="0.12" text-anchor="end">TPM</text>
<text transform="translate(632.18 142) rotate(-90) scale(0.92 1)" font-family="'Liberation Serif', 'Times New Roman', serif" font-size="9.3" fill="#1a1a1a" stroke="#1a1a1a" stroke-width="0.12" text-anchor="end">TPM<tspan style="font-size:7.9px;" dy="1.7">cov</tspan></text>
<rect x="640.1" y="82.6" width="7.6" height="7.1" fill="#72b4d7"/>
<rect x="640.1" y="94.8" width="7.6" height="7.2" fill="#c3dde7"/>
<text transform="translate(649.6 88.7) scale(0.95 1)" font-size="8.63" fill="#1a1a1a">reaction</text>
<text transform="translate(649.6 100.4) scale(0.95 1)" font-size="8.63" fill="#1a1a1a">pathway</text>
<rect x="40.9" y="218.2" width="15.28" height="11.55" fill="#6b2518"/>
<rect x="56.13" y="218.2" width="15.28" height="11.55" fill="#e2a42d"/>
<rect x="71.36" y="218.2" width="15.28" height="11.55" fill="#e2a42d"/>
<rect x="86.59" y="218.2" width="15.28" height="11.55" fill="#e2a42d"/>
<rect x="101.82" y="218.2" width="15.28" height="11.55" fill="#e2a42d"/>
<rect x="117.05" y="218.2" width="15.28" height="11.55" fill="#e2a42d"/>
<rect x="132.28" y="218.2" width="15.28" height="11.55" fill="#f2edbc"/>
<rect x="147.51" y="218.2" width="15.28" height="11.55" fill="#f2edbc"/>
<rect x="162.74" y="218.2" width="15.28" height="11.55" fill="#f8fde5"/>
<rect x="177.97" y="218.2" width="15.28" height="11.55" fill="#f8fde5"/>
<rect x="40.9" y="229.7" width="15.28" height="11.55" fill="#e2a42d"/>
<rect x="56.13" y="229.7" width="15.28" height="11.55" fill="#6b2518"/>
<rect x="71.36" y="229.7" width="15.28" height="11.55" fill="#ad4b17"/>
<rect x="86.59" y="229.7" width="15.28" height="11.55" fill="#e2a42d"/>
<rect x="101.82" y="229.7" width="15.28" height="11.55" fill="#e2a42d"/>
<rect x="117.05" y="229.7" width="15.28" height="11.55" fill="#e2a42d"/>
<rect x="132.28" y="229.7" width="15.28" height="11.55" fill="#f2edbc"/>
<rect x="147.51" y="229.7" width="15.28" height="11.55" fill="#f2edbc"/>
<rect x="162.74" y="229.7" width="15.28" height="11.55" fill="#f8fde5"/>
<rect x="177.97" y="229.7" width="15.28" height="11.55" fill="#f8fde5"/>
<rect x="40.9" y="241.2" width="15.28" height="11.55" fill="#e2a42d"/>
<rect x="56.13" y="241.2" width="15.28" height="11.55" fill="#ad4b17"/>
<rect x="71.36" y="241.2" width="15.28" height="11.55" fill="#6b2518"/>
<rect x="86.59" y="241.2" width="15.28" height="11.55" fill="#e7cb6a"/>
<rect x="101.82" y="241.2" width="15.28" height="11.55" fill="#e2a42d"/>
<rect x="117.05" y="241.2" width="15.28" height="11.55" fill="#e2a42d"/>
<rect x="132.28" y="241.2" width="15.28" height="11.55" fill="#f2edbc"/>
<rect x="147.51" y="241.2" width="15.28" height="11.55" fill="#f2edbc"/>
<rect x="162.74" y="241.2" width="15.28" height="11.55" fill="#f8fde5"/>
<rect x="177.97" y="241.2" width="15.28" height="11.55" fill="#f8fde5"/>
<rect x="40.9" y="252.7" width="15.28" height="11.55" fill="#e2a42d"/>
<rect x="56.13" y="252.7" width="15.28" height="11.55" fill="#e2a42d"/>
<rect x="71.36" y="252.7" width="15.28" height="11.55" fill="#e7cb6a"/>
<rect x="86.59" y="252.7" width="15.28" height="11.55" fill="#6b2518"/>
<rect x="101.82" y="252.7" width="15.28" height="11.55" fill="#e2a42d"/>
<rect x="117.05" y="252.7" width="15.28" height="11.55" fill="#e2a42d"/>
<rect x="132.28" y="252.7" width="15.28" height="11.55" fill="#f2edbc"/>
<rect x="147.51" y="252.7" width="15.28" height="11.55" fill="#f2edbc"/>
<rect x="162.74" y="252.7" width="15.28" height="11.55" fill="#f8fde5"/>
<rect x="177.97" y="252.7" width="15.28" height="11.55" fill="#f8fde5"/>
<rect x="40.9" y="264.2" width="15.28" height="11.55" fill="#e2a42d"/>
<rect x="56.13" y="264.2" width="15.28" height="11.55" fill="#e2a42d"/>
<rect x="71.36" y="264.2" width="15.28" height="11.55" fill="#e2a42d"/>
<rect x="86.59" y="264.2" width="15.28" height="11.55" fill="#e2a42d"/>
<rect x="101.82" y="264.2" width="15.28" height="11.55" fill="#6b2518"/>
<rect x="117.05" y="264.2" width="15.28" height="11.55" fill="#ad4b17"/>
<rect x="132.28" y="264.2" width="15.28" height="11.55" fill="#f2edbc"/>
<rect x="147.51" y="264.2" width="15.28" height="11.55" fill="#f2edbc"/>
<rect x="162.74" y="264.2" width="15.28" height="11.55" fill="#f8fde5"/>
<rect x="177.97" y="264.2" width="15.28" height="11.55" fill="#f8fde5"/>
<rect x="40.9" y="275.7" width="15.28" height="11.55" fill="#e2a42d"/>
<rect x="56.13" y="275.7" width="15.28" height="11.55" fill="#e2a42d"/>
<rect x="71.36" y="275.7" width="15.28" height="11.55" fill="#e2a42d"/>
<rect x="86.59" y="275.7" width="15.28" height="11.55" fill="#e2a42d"/>
<rect x="101.82" y="275.7" width="15.28" height="11.55" fill="#ad4b17"/>
<rect x="117.05" y="275.7" width="15.28" height="11.55" fill="#6b2518"/>
<rect x="132.28" y="275.7" width="15.28" height="11.55" fill="#f2edbc"/>
<rect x="147.51" y="275.7" width="15.28" height="11.55" fill="#f2edbc"/>
<rect x="162.74" y="275.7" width="15.28" height="11.55" fill="#f8fde5"/>
<rect x="177.97" y="275.7" width="15.28" height="11.55" fill="#f8fde5"/>
<rect x="40.9" y="287.2" width="15.28" height="11.55" fill="#f2edbc"/>
<rect x="56.13" y="287.2" width="15.28" height="11.55" fill="#f2edbc"/>
<rect x="71.36" y="287.2" width="15.28" height="11.55" fill="#f2edbc"/>
<rect x="86.59" y="287.2" width="15.28" height="11.55" fill="#f2edbc"/>
<rect x="101.82" y="287.2" width="15.28" height="11.55" fill="#f2edbc"/>
<rect x="117.05" y="287.2" width="15.28" height="11.55" fill="#f2edbc"/>
<rect x="132.28" y="287.2" width="15.28" height="11.55" fill="#6b2518"/>
<rect x="147.51" y="287.2" width="15.28" height="11.55" fill="#df7622"/>
<rect x="162.74" y="287.2" width="15.28" height="11.55" fill="#f2edbc"/>
<rect x="177.97" y="287.2" width="15.28" height="11.55" fill="#f8fde5"/>
<rect x="40.9" y="298.7" width="15.28" height="11.55" fill="#f2edbc"/>
<rect x="56.13" y="298.7" width="15.28" height="11.55" fill="#f2edbc"/>
<rect x="71.36" y="298.7" width="15.28" height="11.55" fill="#f2edbc"/>
<rect x="86.59" y="298.7" width="15.28" height="11.55" fill="#f2edbc"/>
<rect x="101.82" y="298.7" width="15.28" height="11.55" fill="#f2edbc"/>
<rect x="117.05" y="298.7" width="15.28" height="11.55" fill="#f2edbc"/>
<rect x="132.28" y="298.7" width="15.28" height="11.55" fill="#df7622"/>
<rect x="147.51" y="298.7" width="15.28" height="11.55" fill="#6b2518"/>
<rect x="162.74" y="298.7" width="15.28" height="11.55" fill="#f2edbc"/>
<rect x="177.97" y="298.7" width="15.28" height="11.55" fill="#f2edbc"/>
<rect x="40.9" y="310.2" width="15.28" height="11.55" fill="#f8fde5"/>
<rect x="56.13" y="310.2" width="15.28" height="11.55" fill="#f8fde5"/>
<rect x="71.36" y="310.2" width="15.28" height="11.55" fill="#f8fde5"/>
<rect x="86.59" y="310.2" width="15.28" height="11.55" fill="#f8fde5"/>
<rect x="101.82" y="310.2" width="15.28" height="11.55" fill="#f8fde5"/>
<rect x="117.05" y="310.2" width="15.28" height="11.55" fill="#f8fde5"/>
<rect x="132.28" y="310.2" width="15.28" height="11.55" fill="#f2edbc"/>
<rect x="147.51" y="310.2" width="15.28" height="11.55" fill="#f2edbc"/>
<rect x="162.74" y="310.2" width="15.28" height="11.55" fill="#6b2518"/>
<rect x="177.97" y="310.2" width="15.28" height="11.55" fill="#f2edbc"/>
<rect x="40.9" y="321.7" width="15.28" height="11.55" fill="#f8fde5"/>
<rect x="56.13" y="321.7" width="15.28" height="11.55" fill="#f8fde5"/>
<rect x="71.36" y="321.7" width="15.28" height="11.55" fill="#f8fde5"/>
<rect x="86.59" y="321.7" width="15.28" height="11.55" fill="#f8fde5"/>
<rect x="101.82" y="321.7" width="15.28" height="11.55" fill="#f8fde5"/>
<rect x="117.05" y="321.7" width="15.28" height="11.55" fill="#f8fde5"/>
<rect x="132.28" y="321.7" width="15.28" height="11.55" fill="#f8fde5"/>
<rect x="147.51" y="321.7" width="15.28" height="11.55" fill="#f2edbc"/>
<rect x="162.74" y="321.7" width="15.28" height="11.55" fill="#f2edbc"/>
<rect x="177.97" y="321.7" width="15.28" height="11.55" fill="#6b2518"/>
<path d="M40.9 218.2V333.2M40.9 218.2H193.2M56.13 218.2V333.2M40.9 229.7H193.2M71.36 218.2V333.2M40.9 241.2H193.2M86.59 218.2V333.2M40.9 252.7H193.2M101.82 218.2V333.2M40.9 264.2H193.2M117.05 218.2V333.2M40.9 275.7H193.2M132.28 218.2V333.2M40.9 287.2H193.2M147.51 218.2V333.2M40.9 298.7H193.2M162.74 218.2V333.2M40.9 310.2H193.2M177.97 218.2V333.2M40.9 321.7H193.2M193.2 218.2V333.2M40.9 333.2H193.2" stroke="#8a8a70" stroke-opacity="0.28" stroke-width="0.6" fill="none"/>
<path d="M63.74 218.2V215.6M78.97 218.2V215.6M63.74 215.6H78.97M48.52 218.2V213.1M71.36 215.6V213.1M48.52 213.1H71.36M109.44 218.2V215.6M124.66 218.2V215.6M109.44 215.6H124.66M94.2 218.2V213.3M117.05 215.6V213.3M94.2 213.3H117.05M59.94 213.1V212.3M105.63 213.3V212.3M59.94 212.3H105.63M139.9 218.2V214.7M155.12 218.2V214.7M139.9 214.7H155.12M170.36 218.2V210.4M185.59 218.2V210.4M170.36 210.4H185.59M147.51 214.7V208.6M177.97 210.4V208.6M147.51 208.6H177.97M82.78 212.3V204.6M162.74 208.6V204.6M82.78 204.6H162.74" stroke="#9a9a9a" stroke-width="0.7" fill="none"/>
<path d="M40.9 235.45H38.3M40.9 246.95H38.3M38.3 235.45V246.95M40.9 223.95H35.8M38.3 241.2H35.8M35.8 223.95V241.2M40.9 269.95H38.3M40.9 281.45H38.3M38.3 269.95V281.45M40.9 258.45H36M38.3 275.7H36M36 258.45V275.7M35.8 232.57H35M36 267.07H35M35 232.57V267.07M40.9 292.95H37.4M40.9 304.45H37.4M37.4 292.95V304.45M40.9 315.95H33.1M40.9 327.45H33.1M33.1 315.95V327.45M37.4 298.7H31.3M33.1 321.7H31.3M31.3 298.7V321.7M35 249.82H27.3M31.3 310.2H27.3M27.3 249.82V310.2" stroke="#9a9a9a" stroke-width="0.7" fill="none"/>
<text x="194.2" y="227" font-family="'Liberation Serif', 'Times New Roman', serif" font-size="7.6" fill="#1a1a1a" stroke="#1a1a1a" stroke-width="0.2">GeTMM<tspan style="font-size:6.6px;font-style:italic;font-family:'Liberation Sans',Arial,sans-serif;" dy="1.8">cov</tspan></text>
<text x="194.2" y="238.55" font-family="'Liberation Serif', 'Times New Roman', serif" font-size="7.6" fill="#1a1a1a" stroke="#1a1a1a" stroke-width="0.2">RLE<tspan style="font-size:6.6px;font-style:italic;font-family:'Liberation Sans',Arial,sans-serif;" dy="1.8">cov</tspan></text>
<text x="194.2" y="250.1" font-family="'Liberation Serif', 'Times New Roman', serif" font-size="7.6" fill="#1a1a1a" stroke="#1a1a1a" stroke-width="0.2">TMM<tspan style="font-size:6.6px;font-style:italic;font-family:'Liberation Sans',Arial,sans-serif;" dy="1.8">cov</tspan></text>
<text x="194.2" y="261.65" font-family="'Liberation Serif', 'Times New Roman', serif" font-size="7.6" fill="#1a1a1a" stroke="#1a1a1a" stroke-width="0.2">GeTMM</text>
<text x="194.2" y="273.2" font-family="'Liberation Serif', 'Times New Roman', serif" font-size="7.6" fill="#1a1a1a" stroke="#1a1a1a" stroke-width="0.2">RLE</text>
<text x="194.2" y="284.75" font-family="'Liberation Serif', 'Times New Roman', serif" font-size="7.6" fill="#1a1a1a" stroke="#1a1a1a" stroke-width="0.2">TMM</text>
<text x="194.2" y="296.3" font-family="'Liberation Serif', 'Times New Roman', serif" font-size="7.6" fill="#1a1a1a" stroke="#1a1a1a" stroke-width="0.2">FPKM<tspan style="font-size:6.6px;font-style:italic;font-family:'Liberation Sans',Arial,sans-serif;" dy="1.8">cov</tspan></text>
<text x="194.2" y="307.85" font-family="'Liberation Serif', 'Times New Roman', serif" font-size="7.6" fill="#1a1a1a" stroke="#1a1a1a" stroke-width="0.2">TPM<tspan style="font-size:6.6px;font-style:italic;font-family:'Liberation Sans',Arial,sans-serif;" dy="1.8">cov</tspan></text>
<text x="194.2" y="319.4" font-family="'Liberation Serif', 'Times New Roman', serif" font-size="7.6" fill="#1a1a1a" stroke="#1a1a1a" stroke-width="0.2">FPKM</text>
<text x="194.2" y="330.95" font-family="'Liberation Serif', 'Times New Roman', serif" font-size="7.6" fill="#1a1a1a" stroke="#1a1a1a" stroke-width="0.2">TPM</text>
<text transform="translate(53.12 337.9) rotate(-50)" font-family="'Liberation Serif', 'Times New Roman', serif" font-size="7.1" fill="#1a1a1a" stroke="#1a1a1a" stroke-width="0.2" text-anchor="end">GeTMM<tspan style="font-size:6.2px;font-style:italic;font-family:'Liberation Sans',Arial,sans-serif;" dy="1.3">cov</tspan></text>
<text transform="translate(68.34 337.9) rotate(-50)" font-family="'Liberation Serif', 'Times New Roman', serif" font-size="7.1" fill="#1a1a1a" stroke="#1a1a1a" stroke-width="0.2" text-anchor="end">RLE<tspan style="font-size:6.2px;font-style:italic;font-family:'Liberation Sans',Arial,sans-serif;" dy="1.3">cov</tspan></text>
<text transform="translate(83.57 337.9) rotate(-50)" font-family="'Liberation Serif', 'Times New Roman', serif" font-size="7.1" fill="#1a1a1a" stroke="#1a1a1a" stroke-width="0.2" text-anchor="end">TMM<tspan style="font-size:6.2px;font-style:italic;font-family:'Liberation Sans',Arial,sans-serif;" dy="1.3">cov</tspan></text>
<text transform="translate(98.8 337.9) rotate(-50)" font-family="'Liberation Serif', 'Times New Roman', serif" font-size="7.1" fill="#1a1a1a" stroke="#1a1a1a" stroke-width="0.2" text-anchor="end">GeTMM</text>
<text transform="translate(114.03 337.9) rotate(-50)" font-family="'Liberation Serif', 'Times New Roman', serif" font-size="7.1" fill="#1a1a1a" stroke="#1a1a1a" stroke-width="0.2" text-anchor="end">RLE</text>
<text transform="translate(129.26 337.9) rotate(-50)" font-family="'Liberation Serif', 'Times New Roman', serif" font-size="7.1" fill="#1a1a1a" stroke="#1a1a1a" stroke-width="0.2" text-anchor="end">TMM</text>
<text transform="translate(144.5 337.9) rotate(-50)" font-family="'Liberation Serif', 'Times New Roman', serif" font-size="7.1" fill="#1a1a1a" stroke="#1a1a1a" stroke-width="0.2" text-anchor="end">FPKM<tspan style="font-size:6.2px;font-style:italic;font-family:'Liberation Sans',Arial,sans-serif;" dy="1.3">cov</tspan></text>
<text transform="translate(159.72 337.9) rotate(-50)" font-family="'Liberation Serif', 'Times New Roman', serif" font-size="7.1" fill="#1a1a1a" stroke="#1a1a1a" stroke-width="0.2" text-anchor="end">TPM<tspan style="font-size:6.2px;font-style:italic;font-family:'Liberation Sans',Arial,sans-serif;" dy="1.3">cov</tspan></text>
<text transform="translate(174.96 337.9) rotate(-50)" font-family="'Liberation Serif', 'Times New Roman', serif" font-size="7.1" fill="#1a1a1a" stroke="#1a1a1a" stroke-width="0.2" text-anchor="end">FPKM</text>
<text transform="translate(190.19 337.9) rotate(-50)" font-family="'Liberation Serif', 'Times New Roman', serif" font-size="7.1" fill="#1a1a1a" stroke="#1a1a1a" stroke-width="0.2" text-anchor="end">TPM</text>
<rect x="232.1" y="222" width="2.7" height="5.62" fill="#6b2518"/>
<rect x="232.1" y="227.57" width="2.7" height="5.62" fill="#ad4b17"/>
<rect x="232.1" y="233.14" width="2.7" height="5.62" fill="#df7622"/>
<rect x="232.1" y="238.71" width="2.7" height="5.62" fill="#e2a42d"/>
<rect x="232.1" y="244.29" width="2.7" height="5.62" fill="#e7cb6a"/>
<rect x="232.1" y="249.86" width="2.7" height="5.62" fill="#f2edbc"/>
<rect x="232.1" y="255.43" width="2.7" height="5.62" fill="#f8fde5"/>
<text x="235.8" y="223.9" font-size="2.6" fill="#555">1</text>
<text x="235.8" y="231.02" font-size="2.6" fill="#555">0.8</text>
<text x="235.8" y="238.13" font-size="2.6" fill="#555">0.6</text>
<text x="235.8" y="245.25" font-size="2.6" fill="#555">0.4</text>
<text x="235.8" y="252.36" font-size="2.6" fill="#555">0.2</text>
<text x="235.8" y="259.48" font-size="2.6" fill="#555">0</text>
<rect x="259.9" y="217.3" width="15.25" height="11.56" fill="#6b2518"/>
<rect x="275.1" y="217.3" width="15.25" height="11.56" fill="#f8fde5"/>
<rect x="290.3" y="217.3" width="15.25" height="11.56" fill="#f8fde5"/>
<rect x="305.5" y="217.3" width="15.25" height="11.56" fill="#f8fde5"/>
<rect x="320.7" y="217.3" width="15.25" height="11.56" fill="#f8fde5"/>
<rect x="335.9" y="217.3" width="15.25" height="11.56" fill="#f8fde5"/>
<rect x="351.1" y="217.3" width="15.25" height="11.56" fill="#f8fde5"/>
<rect x="366.3" y="217.3" width="15.25" height="11.56" fill="#f8fde5"/>
<rect x="381.5" y="217.3" width="15.25" height="11.56" fill="#f8fde5"/>
<rect x="396.7" y="217.3" width="15.25" height="11.56" fill="#f8fde5"/>
<rect x="259.9" y="228.81" width="15.25" height="11.56" fill="#f8fde5"/>
<rect x="275.1" y="228.81" width="15.25" height="11.56" fill="#6b2518"/>
<rect x="290.3" y="228.81" width="15.25" height="11.56" fill="#e7cb6a"/>
<rect x="305.5" y="228.81" width="15.25" height="11.56" fill="#f8fde5"/>
<rect x="320.7" y="228.81" width="15.25" height="11.56" fill="#f8fde5"/>
<rect x="335.9" y="228.81" width="15.25" height="11.56" fill="#f8fde5"/>
<rect x="351.1" y="228.81" width="15.25" height="11.56" fill="#f8fde5"/>
<rect x="366.3" y="228.81" width="15.25" height="11.56" fill="#f8fde5"/>
<rect x="381.5" y="228.81" width="15.25" height="11.56" fill="#f8fde5"/>
<rect x="396.7" y="228.81" width="15.25" height="11.56" fill="#f8fde5"/>
<rect x="259.9" y="240.32" width="15.25" height="11.56" fill="#f8fde5"/>
<rect x="275.1" y="240.32" width="15.25" height="11.56" fill="#e7cb6a"/>
<rect x="290.3" y="240.32" width="15.25" height="11.56" fill="#6b2518"/>
<rect x="305.5" y="240.32" width="15.25" height="11.56" fill="#f8fde5"/>
<rect x="320.7" y="240.32" width="15.25" height="11.56" fill="#f8fde5"/>
<rect x="335.9" y="240.32" width="15.25" height="11.56" fill="#f8fde5"/>
<rect x="351.1" y="240.32" width="15.25" height="11.56" fill="#f8fde5"/>
<rect x="366.3" y="240.32" width="15.25" height="11.56" fill="#f8fde5"/>
<rect x="381.5" y="240.32" width="15.25" height="11.56" fill="#f8fde5"/>
<rect x="396.7" y="240.32" width="15.25" height="11.56" fill="#f8fde5"/>
<rect x="259.9" y="251.83" width="15.25" height="11.56" fill="#f8fde5"/>
<rect x="275.1" y="251.83" width="15.25" height="11.56" fill="#f8fde5"/>
<rect x="290.3" y="251.83" width="15.25" height="11.56" fill="#f8fde5"/>
<rect x="305.5" y="251.83" width="15.25" height="11.56" fill="#6b2518"/>
<rect x="320.7" y="251.83" width="15.25" height="11.56" fill="#f8fde5"/>
<rect x="335.9" y="251.83" width="15.25" height="11.56" fill="#f8fde5"/>
<rect x="351.1" y="251.83" width="15.25" height="11.56" fill="#f8fde5"/>
<rect x="366.3" y="251.83" width="15.25" height="11.56" fill="#f8fde5"/>
<rect x="381.5" y="251.83" width="15.25" height="11.56" fill="#f8fde5"/>
<rect x="396.7" y="251.83" width="15.25" height="11.56" fill="#f8fde5"/>
<rect x="259.9" y="263.34" width="15.25" height="11.56" fill="#f8fde5"/>
<rect x="275.1" y="263.34" width="15.25" height="11.56" fill="#f8fde5"/>
<rect x="290.3" y="263.34" width="15.25" height="11.56" fill="#f8fde5"/>
<rect x="305.5" y="263.34" width="15.25" height="11.56" fill="#f8fde5"/>
<rect x="320.7" y="263.34" width="15.25" height="11.56" fill="#6b2518"/>
<rect x="335.9" y="263.34" width="15.25" height="11.56" fill="#f8fde5"/>
<rect x="351.1" y="263.34" width="15.25" height="11.56" fill="#f8fde5"/>
<rect x="366.3" y="263.34" width="15.25" height="11.56" fill="#f8fde5"/>
<rect x="381.5" y="263.34" width="15.25" height="11.56" fill="#f8fde5"/>
<rect x="396.7" y="263.34" width="15.25" height="11.56" fill="#f8fde5"/>
<rect x="259.9" y="274.85" width="15.25" height="11.56" fill="#f8fde5"/>
<rect x="275.1" y="274.85" width="15.25" height="11.56" fill="#f8fde5"/>
<rect x="290.3" y="274.85" width="15.25" height="11.56" fill="#f8fde5"/>
<rect x="305.5" y="274.85" width="15.25" height="11.56" fill="#f8fde5"/>
<rect x="320.7" y="274.85" width="15.25" height="11.56" fill="#f8fde5"/>
<rect x="335.9" y="274.85" width="15.25" height="11.56" fill="#6b2518"/>
<rect x="351.1" y="274.85" width="15.25" height="11.56" fill="#f8fde5"/>
<rect x="366.3" y="274.85" width="15.25" height="11.56" fill="#f8fde5"/>
<rect x="381.5" y="274.85" width="15.25" height="11.56" fill="#f8fde5"/>
<rect x="396.7" y="274.85" width="15.25" height="11.56" fill="#f8fde5"/>
<rect x="259.9" y="286.36" width="15.25" height="11.56" fill="#f8fde5"/>
<rect x="275.1" y="286.36" width="15.25" height="11.56" fill="#f8fde5"/>
<rect x="290.3" y="286.36" width="15.25" height="11.56" fill="#f8fde5"/>
<rect x="305.5" y="286.36" width="15.25" height="11.56" fill="#f8fde5"/>
<rect x="320.7" y="286.36" width="15.25" height="11.56" fill="#f8fde5"/>
<rect x="335.9" y="286.36" width="15.25" height="11.56" fill="#f8fde5"/>
<rect x="351.1" y="286.36" width="15.25" height="11.56" fill="#6b2518"/>
<rect x="366.3" y="286.36" width="15.25" height="11.56" fill="#f2edbc"/>
<rect x="381.5" y="286.36" width="15.25" height="11.56" fill="#f8fde5"/>
<rect x="396.7" y="286.36" width="15.25" height="11.56" fill="#f8fde5"/>
<rect x="259.9" y="297.87" width="15.25" height="11.56" fill="#f8fde5"/>
<rect x="275.1" y="297.87" width="15.25" height="11.56" fill="#f8fde5"/>
<rect x="290.3" y="297.87" width="15.25" height="11.56" fill="#f8fde5"/>
<rect x="305.5" y="297.87" width="15.25" height="11.56" fill="#f8fde5"/>
<rect x="320.7" y="297.87" width="15.25" height="11.56" fill="#f8fde5"/>
<rect x="335.9" y="297.87" width="15.25" height="11.56" fill="#f8fde5"/>
<rect x="351.1" y="297.87" width="15.25" height="11.56" fill="#f2edbc"/>
<rect x="366.3" y="297.87" width="15.25" height="11.56" fill="#6b2518"/>
<rect x="381.5" y="297.87" width="15.25" height="11.56" fill="#f8fde5"/>
<rect x="396.7" y="297.87" width="15.25" height="11.56" fill="#f8fde5"/>
<rect x="259.9" y="309.38" width="15.25" height="11.56" fill="#f8fde5"/>
<rect x="275.1" y="309.38" width="15.25" height="11.56" fill="#f8fde5"/>
<rect x="290.3" y="309.38" width="15.25" height="11.56" fill="#f8fde5"/>
<rect x="305.5" y="309.38" width="15.25" height="11.56" fill="#f8fde5"/>
<rect x="320.7" y="309.38" width="15.25" height="11.56" fill="#f8fde5"/>
<rect x="335.9" y="309.38" width="15.25" height="11.56" fill="#f8fde5"/>
<rect x="351.1" y="309.38" width="15.25" height="11.56" fill="#f8fde5"/>
<rect x="366.3" y="309.38" width="15.25" height="11.56" fill="#f8fde5"/>
<rect x="381.5" y="309.38" width="15.25" height="11.56" fill="#6b2518"/>
<rect x="396.7" y="309.38" width="15.25" height="11.56" fill="#f8fde5"/>
<rect x="259.9" y="320.89" width="15.25" height="11.56" fill="#f8fde5"/>
<rect x="275.1" y="320.89" width="15.25" height="11.56" fill="#f8fde5"/>
<rect x="290.3" y="320.89" width="15.25" height="11.56" fill="#f8fde5"/>
<rect x="305.5" y="320.89" width="15.25" height="11.56" fill="#f8fde5"/>
<rect x="320.7" y="320.89" width="15.25" height="11.56" fill="#f8fde5"/>
<rect x="335.9" y="320.89" width="15.25" height="11.56" fill="#f8fde5"/>
<rect x="351.1" y="320.89" width="15.25" height="11.56" fill="#f8fde5"/>
<rect x="366.3" y="320.89" width="15.25" height="11.56" fill="#f8fde5"/>
<rect x="381.5" y="320.89" width="15.25" height="11.56" fill="#f8fde5"/>
<rect x="396.7" y="320.89" width="15.25" height="11.56" fill="#6b2518"/>
<path d="M259.9 217.3V332.4M259.9 217.3H411.9M275.1 217.3V332.4M259.9 228.81H411.9M290.3 217.3V332.4M259.9 240.32H411.9M305.5 217.3V332.4M259.9 251.83H411.9M320.7 217.3V332.4M259.9 263.34H411.9M335.9 217.3V332.4M259.9 274.85H411.9M351.1 217.3V332.4M259.9 286.36H411.9M366.3 217.3V332.4M259.9 297.87H411.9M381.5 217.3V332.4M259.9 309.38H411.9M396.7 217.3V332.4M259.9 320.89H411.9M411.9 217.3V332.4M259.9 332.4H411.9" stroke="#8a8a70" stroke-opacity="0.28" stroke-width="0.6" fill="none"/>
<path d="M282.7 217.3V208.3M297.9 217.3V208.3M282.7 208.3H297.9M267.5 217.3V205.2M290.3 208.3V205.2M267.5 205.2H290.3M313.1 217.3V205.2M328.3 217.3V205.2M313.1 205.2H328.3M278.9 205.2V204.4M320.7 205.2V204.4M278.9 204.4H320.7M358.7 217.3V207.7M373.9 217.3V207.7M358.7 207.7H373.9M389.1 217.3V205.1M404.3 217.3V205.1M389.1 205.1H404.3M366.3 207.7V204.7M396.7 205.1V204.7M366.3 204.7H396.7M343.5 217.3V204M381.5 204.7V204M343.5 204H381.5M299.8 204.4V203.4M362.5 204V203.4M299.8 203.4H362.5" stroke="#9a9a9a" stroke-width="0.7" fill="none"/>
<path d="M259.9 234.56H250.9M259.9 246.08H250.9M250.9 234.56V246.08M259.9 223.06H247.8M250.9 240.32H247.8M247.8 223.06V240.32M259.9 257.59H247.8M259.9 269.1H247.8M247.8 257.59V269.1M247.8 231.69H247M247.8 263.34H247M247 231.69V263.34M259.9 292.12H250.3M259.9 303.62H250.3M250.3 292.12V303.62M259.9 315.13H247.7M259.9 326.64H247.7M247.7 315.13V326.64M250.3 297.87H247.3M247.7 320.89H247.3M247.3 297.87V320.89M259.9 280.61H246.6M247.3 309.38H246.6M246.6 280.61V309.38M247 247.51H246M246.6 294.99H246M246 247.51V294.99" stroke="#9a9a9a" stroke-width="0.7" fill="none"/>
<text x="412.9" y="226.8" font-family="'Liberation Serif', 'Times New Roman', serif" font-size="7.6" fill="#1a1a1a" stroke="#1a1a1a" stroke-width="0.2">GeTMM<tspan style="font-size:6.6px;font-style:italic;font-family:'Liberation Sans',Arial,sans-serif;" dy="1.8">cov</tspan></text>
<text x="412.9" y="238.23" font-family="'Liberation Serif', 'Times New Roman', serif" font-size="7.6" fill="#1a1a1a" stroke="#1a1a1a" stroke-width="0.2">RLE</text>
<text x="412.9" y="249.66" font-family="'Liberation Serif', 'Times New Roman', serif" font-size="7.6" fill="#1a1a1a" stroke="#1a1a1a" stroke-width="0.2">TMM</text>
<text x="412.9" y="261.09" font-family="'Liberation Serif', 'Times New Roman', serif" font-size="7.6" fill="#1a1a1a" stroke="#1a1a1a" stroke-width="0.2">RLE<tspan style="font-size:6.6px;font-style:italic;font-family:'Liberation Sans',Arial,sans-serif;" dy="1.8">cov</tspan></text>
<text x="412.9" y="272.52" font-family="'Liberation Serif', 'Times New Roman', serif" font-size="7.6" fill="#1a1a1a" stroke="#1a1a1a" stroke-width="0.2">TMM<tspan style="font-size:6.6px;font-style:italic;font-family:'Liberation Sans',Arial,sans-serif;" dy="1.8">cov</tspan></text>
<text x="412.9" y="283.95" font-family="'Liberation Serif', 'Times New Roman', serif" font-size="7.6" fill="#1a1a1a" stroke="#1a1a1a" stroke-width="0.2">GeTMM</text>
<text x="412.9" y="295.38" font-family="'Liberation Serif', 'Times New Roman', serif" font-size="7.6" fill="#1a1a1a" stroke="#1a1a1a" stroke-width="0.2">FPKM</text>
<text x="412.9" y="306.81" font-family="'Liberation Serif', 'Times New Roman', serif" font-size="7.6" fill="#1a1a1a" stroke="#1a1a1a" stroke-width="0.2">TPM</text>
<text x="412.9" y="318.24" font-family="'Liberation Serif', 'Times New Roman', serif" font-size="7.6" fill="#1a1a1a" stroke="#1a1a1a" stroke-width="0.2">FPKM<tspan style="font-size:6.6px;font-style:italic;font-family:'Liberation Sans',Arial,sans-serif;" dy="1.8">cov</tspan></text>
<text x="412.9" y="329.67" font-family="'Liberation Serif', 'Times New Roman', serif" font-size="7.6" fill="#1a1a1a" stroke="#1a1a1a" stroke-width="0.2">TPM<tspan style="font-size:6.6px;font-style:italic;font-family:'Liberation Sans',Arial,sans-serif;" dy="1.8">cov</tspan></text>
<text transform="translate(272.1 337.1) rotate(-50)" font-family="'Liberation Serif', 'Times New Roman', serif" font-size="7.1" fill="#1a1a1a" stroke="#1a1a1a" stroke-width="0.2" text-anchor="end">GeTMM<tspan style="font-size:6.2px;font-style:italic;font-family:'Liberation Sans',Arial,sans-serif;" dy="1.3">cov</tspan></text>
<text transform="translate(287.3 337.1) rotate(-50)" font-family="'Liberation Serif', 'Times New Roman', serif" font-size="7.1" fill="#1a1a1a" stroke="#1a1a1a" stroke-width="0.2" text-anchor="end">RLE</text>
<text transform="translate(302.5 337.1) rotate(-50)" font-family="'Liberation Serif', 'Times New Roman', serif" font-size="7.1" fill="#1a1a1a" stroke="#1a1a1a" stroke-width="0.2" text-anchor="end">TMM</text>
<text transform="translate(317.7 337.1) rotate(-50)" font-family="'Liberation Serif', 'Times New Roman', serif" font-size="7.1" fill="#1a1a1a" stroke="#1a1a1a" stroke-width="0.2" text-anchor="end">RLE<tspan style="font-size:6.2px;font-style:italic;font-family:'Liberation Sans',Arial,sans-serif;" dy="1.3">cov</tspan></text>
<text transform="translate(332.9 337.1) rotate(-50)" font-family="'Liberation Serif', 'Times New Roman', serif" font-size="7.1" fill="#1a1a1a" stroke="#1a1a1a" stroke-width="0.2" text-anchor="end">TMM<tspan style="font-size:6.2px;font-style:italic;font-family:'Liberation Sans',Arial,sans-serif;" dy="1.3">cov</tspan></text>
<text transform="translate(348.1 337.1) rotate(-50)" font-family="'Liberation Serif', 'Times New Roman', serif" font-size="7.1" fill="#1a1a1a" stroke="#1a1a1a" stroke-width="0.2" text-anchor="end">GeTMM</text>
<text transform="translate(363.3 337.1) rotate(-50)" font-family="'Liberation Serif', 'Times New Roman', serif" font-size="7.1" fill="#1a1a1a" stroke="#1a1a1a" stroke-width="0.2" text-anchor="end">FPKM</text>
<text transform="translate(378.5 337.1) rotate(-50)" font-family="'Liberation Serif', 'Times New Roman', serif" font-size="7.1" fill="#1a1a1a" stroke="#1a1a1a" stroke-width="0.2" text-anchor="end">TPM</text>
<text transform="translate(393.7 337.1) rotate(-50)" font-family="'Liberation Serif', 'Times New Roman', serif" font-size="7.1" fill="#1a1a1a" stroke="#1a1a1a" stroke-width="0.2" text-anchor="end">FPKM<tspan style="font-size:6.2px;font-style:italic;font-family:'Liberation Sans',Arial,sans-serif;" dy="1.3">cov</tspan></text>
<text transform="translate(408.9 337.1) rotate(-50)" font-family="'Liberation Serif', 'Times New Roman', serif" font-size="7.1" fill="#1a1a1a" stroke="#1a1a1a" stroke-width="0.2" text-anchor="end">TPM<tspan style="font-size:6.2px;font-style:italic;font-family:'Liberation Sans',Arial,sans-serif;" dy="1.3">cov</tspan></text>
<rect x="451.5" y="221.4" width="2.7" height="5.35" fill="#6b2518"/>
<rect x="451.5" y="226.7" width="2.7" height="5.35" fill="#ad4b17"/>
<rect x="451.5" y="232" width="2.7" height="5.35" fill="#df7622"/>
<rect x="451.5" y="237.3" width="2.7" height="5.35" fill="#e2a42d"/>
<rect x="451.5" y="242.6" width="2.7" height="5.35" fill="#e7cb6a"/>
<rect x="451.5" y="247.9" width="2.7" height="5.35" fill="#f2edbc"/>
<rect x="451.5" y="253.2" width="2.7" height="5.35" fill="#f8fde5"/>
<text x="455.2" y="223.3" font-size="2.6" fill="#555">1</text>
<text x="455.2" y="230.05" font-size="2.6" fill="#555">0.8</text>
<text x="455.2" y="236.8" font-size="2.6" fill="#555">0.6</text>
<text x="455.2" y="243.55" font-size="2.6" fill="#555">0.4</text>
<text x="455.2" y="250.3" font-size="2.6" fill="#555">0.2</text>
<text x="455.2" y="257.05" font-size="2.6" fill="#555">0</text>
<rect x="481.3" y="218.5" width="15.27" height="11.25" fill="#6b2518"/>
<rect x="496.52" y="218.5" width="15.27" height="11.25" fill="#f8fde5"/>
<rect x="511.74" y="218.5" width="15.27" height="11.25" fill="#f8fde5"/>
<rect x="526.96" y="218.5" width="15.27" height="11.25" fill="#f8fde5"/>
<rect x="542.18" y="218.5" width="15.27" height="11.25" fill="#f8fde5"/>
<rect x="557.4" y="218.5" width="15.27" height="11.25" fill="#f8fde5"/>
<rect x="572.62" y="218.5" width="15.27" height="11.25" fill="#f2edbc"/>
<rect x="587.84" y="218.5" width="15.27" height="11.25" fill="#f8fde5"/>
<rect x="603.06" y="218.5" width="15.27" height="11.25" fill="#f8fde5"/>
<rect x="618.28" y="218.5" width="15.27" height="11.25" fill="#f8fde5"/>
<rect x="481.3" y="229.7" width="15.27" height="11.25" fill="#f8fde5"/>
<rect x="496.52" y="229.7" width="15.27" height="11.25" fill="#6b2518"/>
<rect x="511.74" y="229.7" width="15.27" height="11.25" fill="#f2edbc"/>
<rect x="526.96" y="229.7" width="15.27" height="11.25" fill="#f8fde5"/>
<rect x="542.18" y="229.7" width="15.27" height="11.25" fill="#f8fde5"/>
<rect x="557.4" y="229.7" width="15.27" height="11.25" fill="#f8fde5"/>
<rect x="572.62" y="229.7" width="15.27" height="11.25" fill="#f8fde5"/>
<rect x="587.84" y="229.7" width="15.27" height="11.25" fill="#f8fde5"/>
<rect x="603.06" y="229.7" width="15.27" height="11.25" fill="#f8fde5"/>
<rect x="618.28" y="229.7" width="15.27" height="11.25" fill="#f8fde5"/>
<rect x="481.3" y="240.9" width="15.27" height="11.25" fill="#f8fde5"/>
<rect x="496.52" y="240.9" width="15.27" height="11.25" fill="#f2edbc"/>
<rect x="511.74" y="240.9" width="15.27" height="11.25" fill="#6b2518"/>
<rect x="526.96" y="240.9" width="15.27" height="11.25" fill="#f8fde5"/>
<rect x="542.18" y="240.9" width="15.27" height="11.25" fill="#f8fde5"/>
<rect x="557.4" y="240.9" width="15.27" height="11.25" fill="#f8fde5"/>
<rect x="572.62" y="240.9" width="15.27" height="11.25" fill="#f8fde5"/>
<rect x="587.84" y="240.9" width="15.27" height="11.25" fill="#f8fde5"/>
<rect x="603.06" y="240.9" width="15.27" height="11.25" fill="#f8fde5"/>
<rect x="618.28" y="240.9" width="15.27" height="11.25" fill="#f8fde5"/>
<rect x="481.3" y="252.1" width="15.27" height="11.25" fill="#f8fde5"/>
<rect x="496.52" y="252.1" width="15.27" height="11.25" fill="#f8fde5"/>
<rect x="511.74" y="252.1" width="15.27" height="11.25" fill="#f8fde5"/>
<rect x="526.96" y="252.1" width="15.27" height="11.25" fill="#6b2518"/>
<rect x="542.18" y="252.1" width="15.27" height="11.25" fill="#f2edbc"/>
<rect x="557.4" y="252.1" width="15.27" height="11.25" fill="#f2edbc"/>
<rect x="572.62" y="252.1" width="15.27" height="11.25" fill="#f8fde5"/>
<rect x="587.84" y="252.1" width="15.27" height="11.25" fill="#f8fde5"/>
<rect x="603.06" y="252.1" width="15.27" height="11.25" fill="#f8fde5"/>
<rect x="618.28" y="252.1" width="15.27" height="11.25" fill="#f2edbc"/>
<rect x="481.3" y="263.3" width="15.27" height="11.25" fill="#f8fde5"/>
<rect x="496.52" y="263.3" width="15.27" height="11.25" fill="#f8fde5"/>
<rect x="511.74" y="263.3" width="15.27" height="11.25" fill="#f8fde5"/>
<rect x="526.96" y="263.3" width="15.27" height="11.25" fill="#f2edbc"/>
<rect x="542.18" y="263.3" width="15.27" height="11.25" fill="#6b2518"/>
<rect x="557.4" y="263.3" width="15.27" height="11.25" fill="#e2a42d"/>
<rect x="572.62" y="263.3" width="15.27" height="11.25" fill="#f8fde5"/>
<rect x="587.84" y="263.3" width="15.27" height="11.25" fill="#f2edbc"/>
<rect x="603.06" y="263.3" width="15.27" height="11.25" fill="#f2edbc"/>
<rect x="618.28" y="263.3" width="15.27" height="11.25" fill="#f2edbc"/>
<rect x="481.3" y="274.5" width="15.27" height="11.25" fill="#f8fde5"/>
<rect x="496.52" y="274.5" width="15.27" height="11.25" fill="#f8fde5"/>
<rect x="511.74" y="274.5" width="15.27" height="11.25" fill="#f8fde5"/>
<rect x="526.96" y="274.5" width="15.27" height="11.25" fill="#f2edbc"/>
<rect x="542.18" y="274.5" width="15.27" height="11.25" fill="#e2a42d"/>
<rect x="557.4" y="274.5" width="15.27" height="11.25" fill="#6b2518"/>
<rect x="572.62" y="274.5" width="15.27" height="11.25" fill="#f8fde5"/>
<rect x="587.84" y="274.5" width="15.27" height="11.25" fill="#f2edbc"/>
<rect x="603.06" y="274.5" width="15.27" height="11.25" fill="#f8fde5"/>
<rect x="618.28" y="274.5" width="15.27" height="11.25" fill="#f2edbc"/>
<rect x="481.3" y="285.7" width="15.27" height="11.25" fill="#f2edbc"/>
<rect x="496.52" y="285.7" width="15.27" height="11.25" fill="#f8fde5"/>
<rect x="511.74" y="285.7" width="15.27" height="11.25" fill="#f8fde5"/>
<rect x="526.96" y="285.7" width="15.27" height="11.25" fill="#f8fde5"/>
<rect x="542.18" y="285.7" width="15.27" height="11.25" fill="#f8fde5"/>
<rect x="557.4" y="285.7" width="15.27" height="11.25" fill="#f8fde5"/>
<rect x="572.62" y="285.7" width="15.27" height="11.25" fill="#6b2518"/>
<rect x="587.84" y="285.7" width="15.27" height="11.25" fill="#e7cb6a"/>
<rect x="603.06" y="285.7" width="15.27" height="11.25" fill="#f2edbc"/>
<rect x="618.28" y="285.7" width="15.27" height="11.25" fill="#f8fde5"/>
<rect x="481.3" y="296.9" width="15.27" height="11.25" fill="#f8fde5"/>
<rect x="496.52" y="296.9" width="15.27" height="11.25" fill="#f8fde5"/>
<rect x="511.74" y="296.9" width="15.27" height="11.25" fill="#f8fde5"/>
<rect x="526.96" y="296.9" width="15.27" height="11.25" fill="#f8fde5"/>
<rect x="542.18" y="296.9" width="15.27" height="11.25" fill="#f2edbc"/>
<rect x="557.4" y="296.9" width="15.27" height="11.25" fill="#f2edbc"/>
<rect x="572.62" y="296.9" width="15.27" height="11.25" fill="#e7cb6a"/>
<rect x="587.84" y="296.9" width="15.27" height="11.25" fill="#6b2518"/>
<rect x="603.06" y="296.9" width="15.27" height="11.25" fill="#f2edbc"/>
<rect x="618.28" y="296.9" width="15.27" height="11.25" fill="#f2edbc"/>
<rect x="481.3" y="308.1" width="15.27" height="11.25" fill="#f8fde5"/>
<rect x="496.52" y="308.1" width="15.27" height="11.25" fill="#f8fde5"/>
<rect x="511.74" y="308.1" width="15.27" height="11.25" fill="#f8fde5"/>
<rect x="526.96" y="308.1" width="15.27" height="11.25" fill="#f8fde5"/>
<rect x="542.18" y="308.1" width="15.27" height="11.25" fill="#f2edbc"/>
<rect x="557.4" y="308.1" width="15.27" height="11.25" fill="#f8fde5"/>
<rect x="572.62" y="308.1" width="15.27" height="11.25" fill="#f2edbc"/>
<rect x="587.84" y="308.1" width="15.27" height="11.25" fill="#f2edbc"/>
<rect x="603.06" y="308.1" width="15.27" height="11.25" fill="#6b2518"/>
<rect x="618.28" y="308.1" width="15.27" height="11.25" fill="#f2edbc"/>
<rect x="481.3" y="319.3" width="15.27" height="11.25" fill="#f8fde5"/>
<rect x="496.52" y="319.3" width="15.27" height="11.25" fill="#f8fde5"/>
<rect x="511.74" y="319.3" width="15.27" height="11.25" fill="#f8fde5"/>
<rect x="526.96" y="319.3" width="15.27" height="11.25" fill="#f2edbc"/>
<rect x="542.18" y="319.3" width="15.27" height="11.25" fill="#f2edbc"/>
<rect x="557.4" y="319.3" width="15.27" height="11.25" fill="#f2edbc"/>
<rect x="572.62" y="319.3" width="15.27" height="11.25" fill="#f8fde5"/>
<rect x="587.84" y="319.3" width="15.27" height="11.25" fill="#f2edbc"/>
<rect x="603.06" y="319.3" width="15.27" height="11.25" fill="#f2edbc"/>
<rect x="618.28" y="319.3" width="15.27" height="11.25" fill="#6b2518"/>
<path d="M481.3 218.5V330.5M481.3 218.5H633.5M496.52 218.5V330.5M481.3 229.7H633.5M511.74 218.5V330.5M481.3 240.9H633.5M526.96 218.5V330.5M481.3 252.1H633.5M542.18 218.5V330.5M481.3 263.3H633.5M557.4 218.5V330.5M481.3 274.5H633.5M572.62 218.5V330.5M481.3 285.7H633.5M587.84 218.5V330.5M481.3 296.9H633.5M603.06 218.5V330.5M481.3 308.1H633.5M618.28 218.5V330.5M481.3 319.3H633.5M633.5 218.5V330.5M481.3 330.5H633.5" stroke="#8a8a70" stroke-opacity="0.28" stroke-width="0.6" fill="none"/>
<path d="M504.13 218.5V209.8M519.35 218.5V209.8M504.13 209.8H519.35M488.91 218.5V207.7M511.74 209.8V207.7M488.91 207.7H511.74M549.79 218.5V213.5M565.01 218.5V213.5M549.79 213.5H565.01M534.57 218.5V208.9M557.4 213.5V208.9M534.57 208.9H557.4M500.33 207.7V205.1M545.99 208.9V205.1M500.33 205.1H545.99M580.23 218.5V210.5M595.45 218.5V210.5M580.23 210.5H595.45M610.67 218.5V208.9M625.89 218.5V208.9M610.67 208.9H625.89M587.84 210.5V208.2M618.28 208.9V208.2M587.84 208.2H618.28M523.15 205.1V204.2M603.06 208.2V204.2M523.15 204.2H603.06" stroke="#9a9a9a" stroke-width="0.7" fill="none"/>
<path d="M481.3 235.3H472.6M481.3 246.5H472.6M472.6 235.3V246.5M481.3 224.1H470.5M472.6 240.9H470.5M470.5 224.1V240.9M481.3 268.9H476.3M481.3 280.1H476.3M476.3 268.9V280.1M481.3 257.7H471.7M476.3 274.5H471.7M471.7 257.7V274.5M470.5 232.5H467.9M471.7 266.1H467.9M467.9 232.5V266.1M481.3 291.3H473.3M481.3 302.5H473.3M473.3 291.3V302.5M481.3 313.7H471.7M481.3 324.9H471.7M471.7 313.7V324.9M473.3 296.9H471M471.7 319.3H471M471 296.9V319.3M467.9 249.3H467M471 308.1H467M467 249.3V308.1" stroke="#9a9a9a" stroke-width="0.7" fill="none"/>
<text x="634.5" y="226.4" font-family="'Liberation Serif', 'Times New Roman', serif" font-size="7.6" fill="#1a1a1a" stroke="#1a1a1a" stroke-width="0.2">GeTMM</text>
<text x="634.5" y="237.78" font-family="'Liberation Serif', 'Times New Roman', serif" font-size="7.6" fill="#1a1a1a" stroke="#1a1a1a" stroke-width="0.2">RLE<tspan style="font-size:6.6px;font-style:italic;font-family:'Liberation Sans',Arial,sans-serif;" dy="1.8">cov</tspan></text>
<text x="634.5" y="249.16" font-family="'Liberation Serif', 'Times New Roman', serif" font-size="7.6" fill="#1a1a1a" stroke="#1a1a1a" stroke-width="0.2">TMM<tspan style="font-size:6.6px;font-style:italic;font-family:'Liberation Sans',Arial,sans-serif;" dy="1.8">cov</tspan></text>
<text x="634.5" y="260.54" font-family="'Liberation Serif', 'Times New Roman', serif" font-size="7.6" fill="#1a1a1a" stroke="#1a1a1a" stroke-width="0.2">GeTMM<tspan style="font-size:6.6px;font-style:italic;font-family:'Liberation Sans',Arial,sans-serif;" dy="1.8">cov</tspan></text>
<text x="634.5" y="271.92" font-family="'Liberation Serif', 'Times New Roman', serif" font-size="7.6" fill="#1a1a1a" stroke="#1a1a1a" stroke-width="0.2">RLE</text>
<text x="634.5" y="283.3" font-family="'Liberation Serif', 'Times New Roman', serif" font-size="7.6" fill="#1a1a1a" stroke="#1a1a1a" stroke-width="0.2">TMM</text>
<text x="634.5" y="294.68" font-family="'Liberation Serif', 'Times New Roman', serif" font-size="7.6" fill="#1a1a1a" stroke="#1a1a1a" stroke-width="0.2">FPKM</text>
<text x="634.5" y="306.06" font-family="'Liberation Serif', 'Times New Roman', serif" font-size="7.6" fill="#1a1a1a" stroke="#1a1a1a" stroke-width="0.2">TPM</text>
<text x="634.5" y="317.44" font-family="'Liberation Serif', 'Times New Roman', serif" font-size="7.6" fill="#1a1a1a" stroke="#1a1a1a" stroke-width="0.2">FPKM<tspan style="font-size:6.6px;font-style:italic;font-family:'Liberation Sans',Arial,sans-serif;" dy="1.8">cov</tspan></text>
<text x="634.5" y="328.82" font-family="'Liberation Serif', 'Times New Roman', serif" font-size="7.6" fill="#1a1a1a" stroke="#1a1a1a" stroke-width="0.2">TPM<tspan style="font-size:6.6px;font-style:italic;font-family:'Liberation Sans',Arial,sans-serif;" dy="1.8">cov</tspan></text>
<text transform="translate(493.51 335.2) rotate(-50)" font-family="'Liberation Serif', 'Times New Roman', serif" font-size="7.1" fill="#1a1a1a" stroke="#1a1a1a" stroke-width="0.2" text-anchor="end">GeTMM</text>
<text transform="translate(508.73 335.2) rotate(-50)" font-family="'Liberation Serif', 'Times New Roman', serif" font-size="7.1" fill="#1a1a1a" stroke="#1a1a1a" stroke-width="0.2" text-anchor="end">RLE<tspan style="font-size:6.2px;font-style:italic;font-family:'Liberation Sans',Arial,sans-serif;" dy="1.3">cov</tspan></text>
<text transform="translate(523.95 335.2) rotate(-50)" font-family="'Liberation Serif', 'Times New Roman', serif" font-size="7.1" fill="#1a1a1a" stroke="#1a1a1a" stroke-width="0.2" text-anchor="end">TMM<tspan style="font-size:6.2px;font-style:italic;font-family:'Liberation Sans',Arial,sans-serif;" dy="1.3">cov</tspan></text>
<text transform="translate(539.17 335.2) rotate(-50)" font-family="'Liberation Serif', 'Times New Roman', serif" font-size="7.1" fill="#1a1a1a" stroke="#1a1a1a" stroke-width="0.2" text-anchor="end">GeTMM<tspan style="font-size:6.2px;font-style:italic;font-family:'Liberation Sans',Arial,sans-serif;" dy="1.3">cov</tspan></text>
<text transform="translate(554.39 335.2) rotate(-50)" font-family="'Liberation Serif', 'Times New Roman', serif" font-size="7.1" fill="#1a1a1a" stroke="#1a1a1a" stroke-width="0.2" text-anchor="end">RLE</text>
<text transform="translate(569.61 335.2) rotate(-50)" font-family="'Liberation Serif', 'Times New Roman', serif" font-size="7.1" fill="#1a1a1a" stroke="#1a1a1a" stroke-width="0.2" text-anchor="end">TMM</text>
<text transform="translate(584.83 335.2) rotate(-50)" font-family="'Liberation Serif', 'Times New Roman', serif" font-size="7.1" fill="#1a1a1a" stroke="#1a1a1a" stroke-width="0.2" text-anchor="end">FPKM</text>
<text transform="translate(600.05 335.2) rotate(-50)" font-family="'Liberation Serif', 'Times New Roman', serif" font-size="7.1" fill="#1a1a1a" stroke="#1a1a1a" stroke-width="0.2" text-anchor="end">TPM</text>
<text transform="translate(615.27 335.2) rotate(-50)" font-family="'Liberation Serif', 'Times New Roman', serif" font-size="7.1" fill="#1a1a1a" stroke="#1a1a1a" stroke-width="0.2" text-anchor="end">FPKM<tspan style="font-size:6.2px;font-style:italic;font-family:'Liberation Sans',Arial,sans-serif;" dy="1.3">cov</tspan></text>
<text transform="translate(630.49 335.2) rotate(-50)" font-family="'Liberation Serif', 'Times New Roman', serif" font-size="7.1" fill="#1a1a1a" stroke="#1a1a1a" stroke-width="0.2" text-anchor="end">TPM<tspan style="font-size:6.2px;font-style:italic;font-family:'Liberation Sans',Arial,sans-serif;" dy="1.3">cov</tspan></text>
<rect x="672" y="221.3" width="2.7" height="5.72" fill="#6b2518"/>
<rect x="672" y="226.97" width="2.7" height="5.72" fill="#ad4b17"/>
<rect x="672" y="232.64" width="2.7" height="5.72" fill="#df7622"/>
<rect x="672" y="238.31" width="2.7" height="5.72" fill="#e2a42d"/>
<rect x="672" y="243.99" width="2.7" height="5.72" fill="#e7cb6a"/>
<rect x="672" y="249.66" width="2.7" height="5.72" fill="#f2edbc"/>
<rect x="672" y="255.33" width="2.7" height="5.72" fill="#f8fde5"/>
<text x="675.7" y="223.2" font-size="2.6" fill="#555">1</text>
<text x="675.7" y="230.45" font-size="2.6" fill="#555">0.8</text>
<text x="675.7" y="237.7" font-size="2.6" fill="#555">0.6</text>
<text x="675.7" y="244.95" font-size="2.6" fill="#555">0.4</text>
<text x="675.7" y="252.2" font-size="2.6" fill="#555">0.2</text>
<text x="675.7" y="259.45" font-size="2.6" fill="#555">0</text>
<text transform="translate(43 443) rotate(-90) scale(1 1)" font-size="9.2" fill="#1a1a1a" text-anchor="middle">Number of reactions</text>
<text transform="translate(54.2 443) rotate(-90) scale(1 1)" font-size="9.2" fill="#1a1a1a" text-anchor="middle">in personalized models</text>
<line x1="81.4" y1="411.8" x2="205.3" y2="411.8" stroke="#f2f2f2" stroke-width="0.7"/>
<line x1="81.4" y1="438.4" x2="205.3" y2="438.4" stroke="#f2f2f2" stroke-width="0.7"/>
<line x1="81.4" y1="465" x2="205.3" y2="465" stroke="#f2f2f2" stroke-width="0.7"/>
<line x1="81.4" y1="398.5" x2="205.3" y2="398.5" stroke="#e8e8e8" stroke-width="0.8"/>
<line x1="81.4" y1="425.1" x2="205.3" y2="425.1" stroke="#e8e8e8" stroke-width="0.8"/>
<line x1="81.4" y1="451.7" x2="205.3" y2="451.7" stroke="#e8e8e8" stroke-width="0.8"/>
<line x1="81.4" y1="478.3" x2="205.3" y2="478.3" stroke="#e8e8e8" stroke-width="0.8"/>
<line x1="88.5" y1="396.5" x2="88.5" y2="488.3" stroke="#e8e8e8" stroke-width="0.8"/>
<line x1="100.69" y1="396.5" x2="100.69" y2="488.3" stroke="#e8e8e8" stroke-width="0.8"/>
<line x1="112.88" y1="396.5" x2="112.88" y2="488.3" stroke="#e8e8e8" stroke-width="0.8"/>
<line x1="125.07" y1="396.5" x2="125.07" y2="488.3" stroke="#e8e8e8" stroke-width="0.8"/>
<line x1="137.26" y1="396.5" x2="137.26" y2="488.3" stroke="#e8e8e8" stroke-width="0.8"/>
<line x1="149.45" y1="396.5" x2="149.45" y2="488.3" stroke="#e8e8e8" stroke-width="0.8"/>
<line x1="161.64" y1="396.5" x2="161.64" y2="488.3" stroke="#e8e8e8" stroke-width="0.8"/>
<line x1="173.83" y1="396.5" x2="173.83" y2="488.3" stroke="#e8e8e8" stroke-width="0.8"/>
<line x1="186.02" y1="396.5" x2="186.02" y2="488.3" stroke="#e8e8e8" stroke-width="0.8"/>
<line x1="198.21" y1="396.5" x2="198.21" y2="488.3" stroke="#e8e8e8" stroke-width="0.8"/>
<text transform="translate(69.5 401.26) scale(0.87 1)" font-size="7.93" fill="#4d4d4d" text-anchor="middle">10000</text>
<text transform="translate(69.5 427.86) scale(0.87 1)" font-size="7.93" fill="#4d4d4d" text-anchor="middle">7500</text>
<text transform="translate(69.5 454.46) scale(0.87 1)" font-size="7.93" fill="#4d4d4d" text-anchor="middle">5000</text>
<text transform="translate(69.5 481.06) scale(0.87 1)" font-size="7.93" fill="#4d4d4d" text-anchor="middle">2500</text>
<line x1="88.5" y1="422.6" x2="88.5" y2="428" stroke="#6e6e6e" stroke-width="1.1"/>
<rect x="83.75" y="424.2" width="9.5" height="2.2" fill="#72b4d8" stroke="#4a4a4a" stroke-width="0.65"/>
<line x1="83.75" y1="425.3" x2="93.25" y2="425.3" stroke="#333" stroke-width="1.15"/>
<circle cx="88.5" cy="420.7" r="1.3" fill="#262626"/>
<line x1="100.69" y1="421.3" x2="100.69" y2="426" stroke="#6e6e6e" stroke-width="1.1"/>
<rect x="95.94" y="423.2" width="9.5" height="1.9" fill="#72b4d8" stroke="#4a4a4a" stroke-width="0.65"/>
<line x1="95.94" y1="424.2" x2="105.44" y2="424.2" stroke="#333" stroke-width="1.15"/>
<line x1="112.88" y1="421.7" x2="112.88" y2="428.5" stroke="#6e6e6e" stroke-width="1.1"/>
<rect x="108.13" y="424.2" width="9.5" height="2.8" fill="#72b4d8" stroke="#4a4a4a" stroke-width="0.65"/>
<line x1="108.13" y1="425.7" x2="117.63" y2="425.7" stroke="#333" stroke-width="1.15"/>
<line x1="125.07" y1="421.3" x2="125.07" y2="427.4" stroke="#6e6e6e" stroke-width="1.1"/>
<rect x="120.32" y="423.2" width="9.5" height="2.5" fill="#72b4d8" stroke="#4a4a4a" stroke-width="0.65"/>
<line x1="120.32" y1="424.4" x2="129.82" y2="424.4" stroke="#333" stroke-width="1.15"/>
<line x1="137.26" y1="422.6" x2="137.26" y2="431.8" stroke="#6e6e6e" stroke-width="1.1"/>
<rect x="132.51" y="425.1" width="9.5" height="3.8" fill="#72b4d8" stroke="#4a4a4a" stroke-width="0.65"/>
<line x1="132.51" y1="427" x2="142.01" y2="427" stroke="#333" stroke-width="1.15"/>
<line x1="149.45" y1="422.3" x2="149.45" y2="429" stroke="#6e6e6e" stroke-width="1.1"/>
<rect x="144.7" y="423.8" width="9.5" height="3.4" fill="#72b4d8" stroke="#4a4a4a" stroke-width="0.65"/>
<line x1="144.7" y1="425.3" x2="154.2" y2="425.3" stroke="#333" stroke-width="1.15"/>
<circle cx="149.45" cy="433.3" r="1.3" fill="#262626"/>
<line x1="161.64" y1="418.1" x2="161.64" y2="461.7" stroke="#6e6e6e" stroke-width="1.1"/>
<rect x="156.89" y="434" width="9.5" height="14.8" fill="#72b4d8" stroke="#4a4a4a" stroke-width="0.65"/>
<line x1="156.89" y1="446" x2="166.39" y2="446" stroke="#333" stroke-width="1.15"/>
<line x1="173.83" y1="417" x2="173.83" y2="457" stroke="#6e6e6e" stroke-width="1.1"/>
<rect x="169.08" y="434.2" width="9.5" height="13.3" fill="#72b4d8" stroke="#4a4a4a" stroke-width="0.65"/>
<line x1="169.08" y1="442.2" x2="178.58" y2="442.2" stroke="#333" stroke-width="1.15"/>
<line x1="186.02" y1="407.1" x2="186.02" y2="469.3" stroke="#6e6e6e" stroke-width="1.1"/>
<rect x="181.27" y="433.3" width="9.5" height="19" fill="#72b4d8" stroke="#4a4a4a" stroke-width="0.65"/>
<line x1="181.27" y1="444.5" x2="190.77" y2="444.5" stroke="#333" stroke-width="1.15"/>
<line x1="198.21" y1="406.7" x2="198.21" y2="472.7" stroke="#6e6e6e" stroke-width="1.1"/>
<rect x="193.46" y="432.7" width="9.5" height="21.3" fill="#72b4d8" stroke="#4a4a4a" stroke-width="0.65"/>
<line x1="193.46" y1="443.1" x2="202.96" y2="443.1" stroke="#333" stroke-width="1.15"/>
<text transform="translate(90.9 489.8) rotate(-90) scale(0.92 1)" font-family="'Liberation Serif', 'Times New Roman', serif" font-size="9" fill="#1a1a1a" stroke="#1a1a1a" stroke-width="0.12" text-anchor="end">RLE</text>
<text transform="translate(102.59 489.8) rotate(-90) scale(0.92 1)" font-family="'Liberation Serif', 'Times New Roman', serif" font-size="9" fill="#1a1a1a" stroke="#1a1a1a" stroke-width="0.12" text-anchor="end">RLE<tspan style="font-size:7.9px;" dy="1.5">cov</tspan></text>
<text transform="translate(114.48 489.8) rotate(-90) scale(0.92 1)" font-family="'Liberation Serif', 'Times New Roman', serif" font-size="9" fill="#1a1a1a" stroke="#1a1a1a" stroke-width="0.12" text-anchor="end">TMM</text>
<text transform="translate(125.57 489.8) rotate(-90) scale(0.92 1)" font-family="'Liberation Serif', 'Times New Roman', serif" font-size="9" fill="#1a1a1a" stroke="#1a1a1a" stroke-width="0.12" text-anchor="end">TMM<tspan style="font-size:7.9px;" dy="1.5">cov</tspan></text>
<text transform="translate(138.66 489.8) rotate(-90) scale(0.92 1)" font-family="'Liberation Serif', 'Times New Roman', serif" font-size="9" fill="#1a1a1a" stroke="#1a1a1a" stroke-width="0.12" text-anchor="end">GeTMM</text>
<text transform="translate(150.85 489.8) rotate(-90) scale(0.92 1)" font-family="'Liberation Serif', 'Times New Roman', serif" font-size="9" fill="#1a1a1a" stroke="#1a1a1a" stroke-width="0.12" text-anchor="end">GeTMM<tspan style="font-size:7.9px;" dy="1.5">cov</tspan></text>
<text transform="translate(164.34 489.8) rotate(-90) scale(0.92 1)" font-family="'Liberation Serif', 'Times New Roman', serif" font-size="9" fill="#1a1a1a" stroke="#1a1a1a" stroke-width="0.12" text-anchor="end">FPKM</text>
<text transform="translate(176.53 489.8) rotate(-90) scale(0.92 1)" font-family="'Liberation Serif', 'Times New Roman', serif" font-size="9" fill="#1a1a1a" stroke="#1a1a1a" stroke-width="0.12" text-anchor="end">FPKM<tspan style="font-size:7.9px;" dy="1.5">cov</tspan></text>
<text transform="translate(188.52 489.8) rotate(-90) scale(0.92 1)" font-family="'Liberation Serif', 'Times New Roman', serif" font-size="9" fill="#1a1a1a" stroke="#1a1a1a" stroke-width="0.12" text-anchor="end">TPM</text>
<text transform="translate(200.61 489.8) rotate(-90) scale(0.92 1)" font-family="'Liberation Serif', 'Times New Roman', serif" font-size="9" fill="#1a1a1a" stroke="#1a1a1a" stroke-width="0.12" text-anchor="end">TPM<tspan style="font-size:7.9px;" dy="1.5">cov</tspan></text>
<line x1="229.1" y1="411.75" x2="350.6" y2="411.75" stroke="#f2f2f2" stroke-width="0.7"/>
<line x1="229.1" y1="438" x2="350.6" y2="438" stroke="#f2f2f2" stroke-width="0.7"/>
<line x1="229.1" y1="464.25" x2="350.6" y2="464.25" stroke="#f2f2f2" stroke-width="0.7"/>
<line x1="229.1" y1="398.6" x2="350.6" y2="398.6" stroke="#e8e8e8" stroke-width="0.8"/>
<line x1="229.1" y1="424.9" x2="350.6" y2="424.9" stroke="#e8e8e8" stroke-width="0.8"/>
<line x1="229.1" y1="451.1" x2="350.6" y2="451.1" stroke="#e8e8e8" stroke-width="0.8"/>
<line x1="229.1" y1="477.4" x2="350.6" y2="477.4" stroke="#e8e8e8" stroke-width="0.8"/>
<line x1="236.2" y1="396.5" x2="236.2" y2="487" stroke="#e8e8e8" stroke-width="0.8"/>
<line x1="248.29" y1="396.5" x2="248.29" y2="487" stroke="#e8e8e8" stroke-width="0.8"/>
<line x1="260.38" y1="396.5" x2="260.38" y2="487" stroke="#e8e8e8" stroke-width="0.8"/>
<line x1="272.47" y1="396.5" x2="272.47" y2="487" stroke="#e8e8e8" stroke-width="0.8"/>
<line x1="284.56" y1="396.5" x2="284.56" y2="487" stroke="#e8e8e8" stroke-width="0.8"/>
<line x1="296.65" y1="396.5" x2="296.65" y2="487" stroke="#e8e8e8" stroke-width="0.8"/>
<line x1="308.74" y1="396.5" x2="308.74" y2="487" stroke="#e8e8e8" stroke-width="0.8"/>
<line x1="320.83" y1="396.5" x2="320.83" y2="487" stroke="#e8e8e8" stroke-width="0.8"/>
<line x1="332.92" y1="396.5" x2="332.92" y2="487" stroke="#e8e8e8" stroke-width="0.8"/>
<line x1="345.01" y1="396.5" x2="345.01" y2="487" stroke="#e8e8e8" stroke-width="0.8"/>
<text transform="translate(217.3 401.36) scale(0.87 1)" font-size="7.93" fill="#4d4d4d" text-anchor="middle">10000</text>
<text transform="translate(217.3 427.66) scale(0.87 1)" font-size="7.93" fill="#4d4d4d" text-anchor="middle">7500</text>
<text transform="translate(217.3 453.86) scale(0.87 1)" font-size="7.93" fill="#4d4d4d" text-anchor="middle">5000</text>
<text transform="translate(217.3 480.16) scale(0.87 1)" font-size="7.93" fill="#4d4d4d" text-anchor="middle">2500</text>
<line x1="236.2" y1="418.8" x2="236.2" y2="429.9" stroke="#6e6e6e" stroke-width="1.1"/>
<rect x="231.45" y="422.8" width="9.5" height="3.8" fill="#c3dee9" stroke="#4a4a4a" stroke-width="0.65"/>
<line x1="231.45" y1="424.6" x2="240.95" y2="424.6" stroke="#333" stroke-width="1.15"/>
<rect x="235" y="429.9" width="2.4" height="8.7" rx="1.2" fill="#262626"/>
<line x1="248.29" y1="418" x2="248.29" y2="432" stroke="#6e6e6e" stroke-width="1.1"/>
<rect x="243.54" y="422.8" width="9.5" height="4.5" fill="#c3dee9" stroke="#4a4a4a" stroke-width="0.65"/>
<line x1="243.54" y1="424.9" x2="253.04" y2="424.9" stroke="#333" stroke-width="1.15"/>
<rect x="247.09" y="432" width="2.4" height="4.9" rx="1.2" fill="#262626"/>
<line x1="260.38" y1="418" x2="260.38" y2="430.8" stroke="#6e6e6e" stroke-width="1.1"/>
<rect x="255.63" y="422.3" width="9.5" height="4.3" fill="#c3dee9" stroke="#4a4a4a" stroke-width="0.65"/>
<line x1="255.63" y1="424.2" x2="265.13" y2="424.2" stroke="#333" stroke-width="1.15"/>
<rect x="259.18" y="430.8" width="2.4" height="8.2" rx="1.2" fill="#262626"/>
<line x1="272.47" y1="416.8" x2="272.47" y2="434" stroke="#6e6e6e" stroke-width="1.1"/>
<rect x="267.72" y="422" width="9.5" height="5.8" fill="#c3dee9" stroke="#4a4a4a" stroke-width="0.65"/>
<line x1="267.72" y1="424" x2="277.22" y2="424" stroke="#333" stroke-width="1.15"/>
<rect x="271.27" y="434" width="2.4" height="5.8" rx="1.2" fill="#262626"/>
<line x1="284.56" y1="419.6" x2="284.56" y2="432.8" stroke="#6e6e6e" stroke-width="1.1"/>
<rect x="279.81" y="423" width="9.5" height="4.8" fill="#c3dee9" stroke="#4a4a4a" stroke-width="0.65"/>
<line x1="279.81" y1="425.2" x2="289.31" y2="425.2" stroke="#333" stroke-width="1.15"/>
<rect x="283.36" y="432.8" width="2.4" height="7" rx="1.2" fill="#262626"/>
<line x1="296.65" y1="418.4" x2="296.65" y2="434.5" stroke="#6e6e6e" stroke-width="1.1"/>
<rect x="291.9" y="423.8" width="9.5" height="4.9" fill="#c3dee9" stroke="#4a4a4a" stroke-width="0.65"/>
<line x1="291.9" y1="426.7" x2="301.4" y2="426.7" stroke="#333" stroke-width="1.15"/>
<rect x="295.45" y="434.5" width="2.4" height="4.7" rx="1.2" fill="#262626"/>
<line x1="308.74" y1="409.1" x2="308.74" y2="475.4" stroke="#6e6e6e" stroke-width="1.1"/>
<rect x="303.99" y="426" width="9.5" height="22.5" fill="#c3dee9" stroke="#4a4a4a" stroke-width="0.65"/>
<line x1="303.99" y1="437.1" x2="313.49" y2="437.1" stroke="#333" stroke-width="1.15"/>
<line x1="320.83" y1="412.8" x2="320.83" y2="465.6" stroke="#6e6e6e" stroke-width="1.1"/>
<rect x="316.08" y="428.4" width="9.5" height="16.2" fill="#c3dee9" stroke="#4a4a4a" stroke-width="0.65"/>
<line x1="316.08" y1="436.5" x2="325.58" y2="436.5" stroke="#333" stroke-width="1.15"/>
<line x1="332.92" y1="400.8" x2="332.92" y2="484.6" stroke="#6e6e6e" stroke-width="1.1"/>
<rect x="328.17" y="419.4" width="9.5" height="31.9" fill="#c3dee9" stroke="#4a4a4a" stroke-width="0.65"/>
<line x1="328.17" y1="434.3" x2="337.67" y2="434.3" stroke="#333" stroke-width="1.15"/>
<line x1="345.01" y1="400.8" x2="345.01" y2="478.7" stroke="#6e6e6e" stroke-width="1.1"/>
<rect x="340.26" y="422.9" width="9.5" height="24.5" fill="#c3dee9" stroke="#4a4a4a" stroke-width="0.65"/>
<line x1="340.26" y1="435.4" x2="349.76" y2="435.4" stroke="#333" stroke-width="1.15"/>
<text transform="translate(238.3 489.9) rotate(-90) scale(0.92 1)" font-family="'Liberation Serif', 'Times New Roman', serif" font-size="9" fill="#1a1a1a" stroke="#1a1a1a" stroke-width="0.12" text-anchor="end">RLE</text>
<text transform="translate(248.89 489.9) rotate(-90) scale(0.92 1)" font-family="'Liberation Serif', 'Times New Roman', serif" font-size="9" fill="#1a1a1a" stroke="#1a1a1a" stroke-width="0.12" text-anchor="end">RLE<tspan style="font-size:7.9px;" dy="1.5">cov</tspan></text>
<text transform="translate(260.38 489.9) rotate(-90) scale(0.92 1)" font-family="'Liberation Serif', 'Times New Roman', serif" font-size="9" fill="#1a1a1a" stroke="#1a1a1a" stroke-width="0.12" text-anchor="end">TMM</text>
<text transform="translate(271.47 489.9) rotate(-90) scale(0.92 1)" font-family="'Liberation Serif', 'Times New Roman', serif" font-size="9" fill="#1a1a1a" stroke="#1a1a1a" stroke-width="0.12" text-anchor="end">TMM<tspan style="font-size:7.9px;" dy="1.5">cov</tspan></text>
<text transform="translate(285.16 489.9) rotate(-90) scale(0.92 1)" font-family="'Liberation Serif', 'Times New Roman', serif" font-size="9" fill="#1a1a1a" stroke="#1a1a1a" stroke-width="0.12" text-anchor="end">GeTMM</text>
<text transform="translate(297.35 489.9) rotate(-90) scale(0.92 1)" font-family="'Liberation Serif', 'Times New Roman', serif" font-size="9" fill="#1a1a1a" stroke="#1a1a1a" stroke-width="0.12" text-anchor="end">GeTMM<tspan style="font-size:7.9px;" dy="1.5">cov</tspan></text>
<text transform="translate(309.64 489.9) rotate(-90) scale(0.92 1)" font-family="'Liberation Serif', 'Times New Roman', serif" font-size="9" fill="#1a1a1a" stroke="#1a1a1a" stroke-width="0.12" text-anchor="end">FPKM</text>
<text transform="translate(320.93 489.9) rotate(-90) scale(0.92 1)" font-family="'Liberation Serif', 'Times New Roman', serif" font-size="9" fill="#1a1a1a" stroke="#1a1a1a" stroke-width="0.12" text-anchor="end">FPKM<tspan style="font-size:7.9px;" dy="1.5">cov</tspan></text>
<text transform="translate(334.12 489.9) rotate(-90) scale(0.92 1)" font-family="'Liberation Serif', 'Times New Roman', serif" font-size="9" fill="#1a1a1a" stroke="#1a1a1a" stroke-width="0.12" text-anchor="end">TPM</text>
<text transform="translate(346.21 489.9) rotate(-90) scale(0.92 1)" font-family="'Liberation Serif', 'Times New Roman', serif" font-size="9" fill="#1a1a1a" stroke="#1a1a1a" stroke-width="0.12" text-anchor="end">TPM<tspan style="font-size:7.9px;" dy="1.5">cov</tspan></text>
<line x1="360.35" y1="428.7" x2="360.35" y2="438.9" stroke="#6e6e6e" stroke-width="0.9"/>
<rect x="354.9" y="430.2" width="10.9" height="7.2" fill="#c3dee9" stroke="#454545" stroke-width="0.75"/>
<line x1="354.9" y1="433.8" x2="365.8" y2="433.8" stroke="#2e2e2e" stroke-width="1.2"/>
<line x1="360.35" y1="441.9" x2="360.35" y2="452.1" stroke="#6e6e6e" stroke-width="0.9"/>
<rect x="354.9" y="443.4" width="10.9" height="7.2" fill="#72b4d8" stroke="#454545" stroke-width="0.75"/>
<line x1="354.9" y1="447" x2="365.8" y2="447" stroke="#2e2e2e" stroke-width="1.2"/>
<text transform="translate(371.9 436.8) scale(0.95 1)" font-size="7.58" fill="#1a1a1a">CANCER</text>
<text transform="translate(371.9 449.9) scale(0.95 1)" font-size="7.58" fill="#1a1a1a">CONTROL</text>
<text transform="translate(424.2 448.3) rotate(-90) scale(1 1)" font-size="8.8" fill="#1a1a1a" text-anchor="middle">Number of significanlty changed</text>
<text transform="translate(434.7 447.9) rotate(-90) scale(1 1)" font-size="9.2" fill="#1a1a1a" text-anchor="middle">reactions/pathways</text>
<line x1="438.5" y1="378.6" x2="438.5" y2="493.2" stroke="#333" stroke-width="0.9"/>
<line x1="438.1" y1="493.2" x2="636" y2="493.2" stroke="#333" stroke-width="0.9"/>
<rect x="441.2" y="394.9" width="17.5" height="28.2" fill="#c3dde7"/>
<rect x="441.2" y="423.1" width="17.5" height="65" fill="#72b4d7"/>
<text transform="translate(449.95 403) scale(0.95 1)" font-size="8.63" fill="#1a1a1a" text-anchor="middle">22</text>
<text transform="translate(449.95 432.4) scale(0.95 1)" font-size="8.63" fill="#1a1a1a" text-anchor="middle">1326</text>
<rect x="460.63" y="395.8" width="17.5" height="22.4" fill="#c3dde7"/>
<rect x="460.63" y="418.2" width="17.5" height="69.9" fill="#72b4d7"/>
<text transform="translate(469.38 403.9) scale(0.95 1)" font-size="8.63" fill="#1a1a1a" text-anchor="middle">12</text>
<text transform="translate(469.38 427) scale(0.95 1)" font-size="8.63" fill="#1a1a1a" text-anchor="middle">2216</text>
<rect x="480.06" y="395.2" width="17.5" height="27.9" fill="#c3dde7"/>
<rect x="480.06" y="423.1" width="17.5" height="65" fill="#72b4d7"/>
<text transform="translate(488.81 403.3) scale(0.95 1)" font-size="8.63" fill="#1a1a1a" text-anchor="middle">21</text>
<text transform="translate(488.81 432.3) scale(0.95 1)" font-size="8.63" fill="#1a1a1a" text-anchor="middle">1338</text>
<rect x="499.49" y="393.7" width="17.5" height="24.3" fill="#c3dde7"/>
<rect x="499.49" y="418" width="17.5" height="70.1" fill="#72b4d7"/>
<text transform="translate(508.24 401.8) scale(0.95 1)" font-size="8.63" fill="#1a1a1a" text-anchor="middle">14</text>
<text transform="translate(508.24 426) scale(0.95 1)" font-size="8.63" fill="#1a1a1a" text-anchor="middle">2373</text>
<rect x="518.92" y="396.9" width="17.5" height="25.1" fill="#c3dde7"/>
<rect x="518.92" y="422" width="17.5" height="66.1" fill="#72b4d7"/>
<text transform="translate(527.67 405) scale(0.95 1)" font-size="8.63" fill="#1a1a1a" text-anchor="middle">16</text>
<text transform="translate(527.67 431.1) scale(0.95 1)" font-size="8.63" fill="#1a1a1a" text-anchor="middle">1498</text>
<rect x="538.35" y="393.1" width="17.5" height="24.9" fill="#c3dde7"/>
<rect x="538.35" y="418" width="17.5" height="70.1" fill="#72b4d7"/>
<text transform="translate(547.1 401.2) scale(0.95 1)" font-size="8.63" fill="#1a1a1a" text-anchor="middle">16</text>
<text transform="translate(547.1 426.8) scale(0.95 1)" font-size="8.63" fill="#1a1a1a" text-anchor="middle">2254</text>
<rect x="557.78" y="389.8" width="17.5" height="26.8" fill="#c3dde7"/>
<rect x="557.78" y="416.6" width="17.5" height="71.5" fill="#72b4d7"/>
<text transform="translate(566.53 397.9) scale(0.95 1)" font-size="8.63" fill="#1a1a1a" text-anchor="middle">20</text>
<text transform="translate(566.53 425.6) scale(0.95 1)" font-size="8.63" fill="#1a1a1a" text-anchor="middle">2555</text>
<rect x="577.21" y="389" width="17.5" height="27" fill="#c3dde7"/>
<rect x="577.21" y="416" width="17.5" height="72.1" fill="#72b4d7"/>
<text transform="translate(585.96 397.1) scale(0.95 1)" font-size="8.63" fill="#1a1a1a" text-anchor="middle">20</text>
<text transform="translate(585.96 424.8) scale(0.95 1)" font-size="8.63" fill="#1a1a1a" text-anchor="middle">2799</text>
<rect x="596.64" y="383.9" width="17.5" height="30.7" fill="#c3dde7"/>
<rect x="596.64" y="414.6" width="17.5" height="73.5" fill="#72b4d7"/>
<text transform="translate(605.39 392) scale(0.95 1)" font-size="8.63" fill="#1a1a1a" text-anchor="middle">31</text>
<text transform="translate(605.39 423.4) scale(0.95 1)" font-size="8.63" fill="#1a1a1a" text-anchor="middle">3115</text>
<rect x="616.07" y="387.6" width="17.5" height="28.4" fill="#c3dde7"/>
<rect x="616.07" y="416" width="17.5" height="72.1" fill="#72b4d7"/>
<text transform="translate(624.82 395.7) scale(0.95 1)" font-size="8.63" fill="#1a1a1a" text-anchor="middle">23</text>
<text transform="translate(624.82 424.8) scale(0.95 1)" font-size="8.63" fill="#1a1a1a" text-anchor="middle">2831</text>
<line x1="449.95" y1="493.2" x2="449.95" y2="494.9" stroke="#333" stroke-width="0.8"/>
<line x1="469.38" y1="493.2" x2="469.38" y2="494.9" stroke="#333" stroke-width="0.8"/>
<line x1="488.81" y1="493.2" x2="488.81" y2="494.9" stroke="#333" stroke-width="0.8"/>
<line x1="508.24" y1="493.2" x2="508.24" y2="494.9" stroke="#333" stroke-width="0.8"/>
<line x1="527.67" y1="493.2" x2="527.67" y2="494.9" stroke="#333" stroke-width="0.8"/>
<line x1="547.1" y1="493.2" x2="547.1" y2="494.9" stroke="#333" stroke-width="0.8"/>
<line x1="566.53" y1="493.2" x2="566.53" y2="494.9" stroke="#333" stroke-width="0.8"/>
<line x1="585.96" y1="493.2" x2="585.96" y2="494.9" stroke="#333" stroke-width="0.8"/>
<line x1="605.39" y1="493.2" x2="605.39" y2="494.9" stroke="#333" stroke-width="0.8"/>
<line x1="624.82" y1="493.2" x2="624.82" y2="494.9" stroke="#333" stroke-width="0.8"/>
<text transform="translate(454.15 495.7) rotate(-90) scale(0.92 1)" font-family="'Liberation Serif', 'Times New Roman', serif" font-size="9.3" fill="#1a1a1a" stroke="#1a1a1a" stroke-width="0.12" text-anchor="end">RLE</text>
<text transform="translate(471.32 495.7) rotate(-90) scale(0.92 1)" font-family="'Liberation Serif', 'Times New Roman', serif" font-size="9.3" fill="#1a1a1a" stroke="#1a1a1a" stroke-width="0.12" text-anchor="end">RLE<tspan style="font-size:7.9px;" dy="1.7">cov</tspan></text>
<text transform="translate(492.09 495.7) rotate(-90) scale(0.92 1)" font-family="'Liberation Serif', 'Times New Roman', serif" font-size="9.3" fill="#1a1a1a" stroke="#1a1a1a" stroke-width="0.12" text-anchor="end">TMM</text>
<text transform="translate(510.76 495.7) rotate(-90) scale(0.92 1)" font-family="'Liberation Serif', 'Times New Roman', serif" font-size="9.3" fill="#1a1a1a" stroke="#1a1a1a" stroke-width="0.12" text-anchor="end">TMM<tspan style="font-size:7.9px;" dy="1.7">cov</tspan></text>
<text transform="translate(530.83 495.7) rotate(-90) scale(0.92 1)" font-family="'Liberation Serif', 'Times New Roman', serif" font-size="9.3" fill="#1a1a1a" stroke="#1a1a1a" stroke-width="0.12" text-anchor="end">GeTMM</text>
<text transform="translate(549.1 495.7) rotate(-90) scale(0.92 1)" font-family="'Liberation Serif', 'Times New Roman', serif" font-size="9.3" fill="#1a1a1a" stroke="#1a1a1a" stroke-width="0.12" text-anchor="end">GeTMM<tspan style="font-size:7.9px;" dy="1.7">cov</tspan></text>
<text transform="translate(569.57 495.7) rotate(-90) scale(0.92 1)" font-family="'Liberation Serif', 'Times New Roman', serif" font-size="9.3" fill="#1a1a1a" stroke="#1a1a1a" stroke-width="0.12" text-anchor="end">FPKM</text>
<text transform="translate(588.44 495.7) rotate(-90) scale(0.92 1)" font-family="'Liberation Serif', 'Times New Roman', serif" font-size="9.3" fill="#1a1a1a" stroke="#1a1a1a" stroke-width="0.12" text-anchor="end">FPKM<tspan style="font-size:7.9px;" dy="1.7">cov</tspan></text>
<text transform="translate(608.51 495.7) rotate(-90) scale(0.92 1)" font-family="'Liberation Serif', 'Times New Roman', serif" font-size="9.3" fill="#1a1a1a" stroke="#1a1a1a" stroke-width="0.12" text-anchor="end">TPM</text>
<text transform="translate(626.98 495.7) rotate(-90) scale(0.92 1)" font-family="'Liberation Serif', 'Times New Roman', serif" font-size="9.3" fill="#1a1a1a" stroke="#1a1a1a" stroke-width="0.12" text-anchor="end">TPM<tspan style="font-size:7.9px;" dy="1.7">cov</tspan></text>
<rect x="636.4" y="430.9" width="7.7" height="7.0" fill="#72b4d7"/>
<rect x="636.4" y="441.5" width="7.7" height="7.2" fill="#c3dde7"/>
<text transform="translate(645.5 437) scale(0.95 1)" font-size="8.63" fill="#1a1a1a">reaction</text>
<text transform="translate(645.5 447.3) scale(0.95 1)" font-size="8.63" fill="#1a1a1a">pathway</text>
<rect x="34.3" y="564.9" width="15.12" height="11.62" fill="#6b2518"/>
<rect x="49.37" y="564.9" width="15.12" height="11.62" fill="#df7622"/>
<rect x="64.44" y="564.9" width="15.12" height="11.62" fill="#df7622"/>
<rect x="79.51" y="564.9" width="15.12" height="11.62" fill="#e2a42d"/>
<rect x="94.58" y="564.9" width="15.12" height="11.62" fill="#e2a42d"/>
<rect x="109.65" y="564.9" width="15.12" height="11.62" fill="#e2a42d"/>
<rect x="124.72" y="564.9" width="15.12" height="11.62" fill="#f8fde5"/>
<rect x="139.79" y="564.9" width="15.12" height="11.62" fill="#f8fde5"/>
<rect x="154.86" y="564.9" width="15.12" height="11.62" fill="#f8fde5"/>
<rect x="169.93" y="564.9" width="15.12" height="11.62" fill="#f8fde5"/>
<rect x="34.3" y="576.47" width="15.12" height="11.62" fill="#df7622"/>
<rect x="49.37" y="576.47" width="15.12" height="11.62" fill="#6b2518"/>
<rect x="64.44" y="576.47" width="15.12" height="11.62" fill="#ad4b17"/>
<rect x="79.51" y="576.47" width="15.12" height="11.62" fill="#e2a42d"/>
<rect x="94.58" y="576.47" width="15.12" height="11.62" fill="#df7622"/>
<rect x="109.65" y="576.47" width="15.12" height="11.62" fill="#df7622"/>
<rect x="124.72" y="576.47" width="15.12" height="11.62" fill="#f8fde5"/>
<rect x="139.79" y="576.47" width="15.12" height="11.62" fill="#f8fde5"/>
<rect x="154.86" y="576.47" width="15.12" height="11.62" fill="#f8fde5"/>
<rect x="169.93" y="576.47" width="15.12" height="11.62" fill="#f8fde5"/>
<rect x="34.3" y="588.04" width="15.12" height="11.62" fill="#df7622"/>
<rect x="49.37" y="588.04" width="15.12" height="11.62" fill="#ad4b17"/>
<rect x="64.44" y="588.04" width="15.12" height="11.62" fill="#6b2518"/>
<rect x="79.51" y="588.04" width="15.12" height="11.62" fill="#e2a42d"/>
<rect x="94.58" y="588.04" width="15.12" height="11.62" fill="#df7622"/>
<rect x="109.65" y="588.04" width="15.12" height="11.62" fill="#df7622"/>
<rect x="124.72" y="588.04" width="15.12" height="11.62" fill="#f8fde5"/>
<rect x="139.79" y="588.04" width="15.12" height="11.62" fill="#f8fde5"/>
<rect x="154.86" y="588.04" width="15.12" height="11.62" fill="#f8fde5"/>
<rect x="169.93" y="588.04" width="15.12" height="11.62" fill="#f8fde5"/>
<rect x="34.3" y="599.61" width="15.12" height="11.62" fill="#e2a42d"/>
<rect x="49.37" y="599.61" width="15.12" height="11.62" fill="#e2a42d"/>
<rect x="64.44" y="599.61" width="15.12" height="11.62" fill="#e2a42d"/>
<rect x="79.51" y="599.61" width="15.12" height="11.62" fill="#6b2518"/>
<rect x="94.58" y="599.61" width="15.12" height="11.62" fill="#e2a42d"/>
<rect x="109.65" y="599.61" width="15.12" height="11.62" fill="#e2a42d"/>
<rect x="124.72" y="599.61" width="15.12" height="11.62" fill="#f8fde5"/>
<rect x="139.79" y="599.61" width="15.12" height="11.62" fill="#f8fde5"/>
<rect x="154.86" y="599.61" width="15.12" height="11.62" fill="#f8fde5"/>
<rect x="169.93" y="599.61" width="15.12" height="11.62" fill="#f8fde5"/>
<rect x="34.3" y="611.18" width="15.12" height="11.62" fill="#e2a42d"/>
<rect x="49.37" y="611.18" width="15.12" height="11.62" fill="#df7622"/>
<rect x="64.44" y="611.18" width="15.12" height="11.62" fill="#df7622"/>
<rect x="79.51" y="611.18" width="15.12" height="11.62" fill="#e2a42d"/>
<rect x="94.58" y="611.18" width="15.12" height="11.62" fill="#6b2518"/>
<rect x="109.65" y="611.18" width="15.12" height="11.62" fill="#ad4b17"/>
<rect x="124.72" y="611.18" width="15.12" height="11.62" fill="#f8fde5"/>
<rect x="139.79" y="611.18" width="15.12" height="11.62" fill="#f8fde5"/>
<rect x="154.86" y="611.18" width="15.12" height="11.62" fill="#f8fde5"/>
<rect x="169.93" y="611.18" width="15.12" height="11.62" fill="#f8fde5"/>
<rect x="34.3" y="622.75" width="15.12" height="11.62" fill="#e2a42d"/>
<rect x="49.37" y="622.75" width="15.12" height="11.62" fill="#df7622"/>
<rect x="64.44" y="622.75" width="15.12" height="11.62" fill="#df7622"/>
<rect x="79.51" y="622.75" width="15.12" height="11.62" fill="#e2a42d"/>
<rect x="94.58" y="622.75" width="15.12" height="11.62" fill="#ad4b17"/>
<rect x="109.65" y="622.75" width="15.12" height="11.62" fill="#6b2518"/>
<rect x="124.72" y="622.75" width="15.12" height="11.62" fill="#f8fde5"/>
<rect x="139.79" y="622.75" width="15.12" height="11.62" fill="#f8fde5"/>
<rect x="154.86" y="622.75" width="15.12" height="11.62" fill="#f8fde5"/>
<rect x="169.93" y="622.75" width="15.12" height="11.62" fill="#f8fde5"/>
<rect x="34.3" y="634.32" width="15.12" height="11.62" fill="#f8fde5"/>
<rect x="49.37" y="634.32" width="15.12" height="11.62" fill="#f8fde5"/>
<rect x="64.44" y="634.32" width="15.12" height="11.62" fill="#f8fde5"/>
<rect x="79.51" y="634.32" width="15.12" height="11.62" fill="#f8fde5"/>
<rect x="94.58" y="634.32" width="15.12" height="11.62" fill="#f8fde5"/>
<rect x="109.65" y="634.32" width="15.12" height="11.62" fill="#f8fde5"/>
<rect x="124.72" y="634.32" width="15.12" height="11.62" fill="#6b2518"/>
<rect x="139.79" y="634.32" width="15.12" height="11.62" fill="#e7cb6a"/>
<rect x="154.86" y="634.32" width="15.12" height="11.62" fill="#f2edbc"/>
<rect x="169.93" y="634.32" width="15.12" height="11.62" fill="#f8fde5"/>
<rect x="34.3" y="645.89" width="15.12" height="11.62" fill="#f8fde5"/>
<rect x="49.37" y="645.89" width="15.12" height="11.62" fill="#f8fde5"/>
<rect x="64.44" y="645.89" width="15.12" height="11.62" fill="#f8fde5"/>
<rect x="79.51" y="645.89" width="15.12" height="11.62" fill="#f8fde5"/>
<rect x="94.58" y="645.89" width="15.12" height="11.62" fill="#f8fde5"/>
<rect x="109.65" y="645.89" width="15.12" height="11.62" fill="#f8fde5"/>
<rect x="124.72" y="645.89" width="15.12" height="11.62" fill="#e7cb6a"/>
<rect x="139.79" y="645.89" width="15.12" height="11.62" fill="#6b2518"/>
<rect x="154.86" y="645.89" width="15.12" height="11.62" fill="#f8fde5"/>
<rect x="169.93" y="645.89" width="15.12" height="11.62" fill="#e7cb6a"/>
<rect x="34.3" y="657.46" width="15.12" height="11.62" fill="#f8fde5"/>
<rect x="49.37" y="657.46" width="15.12" height="11.62" fill="#f8fde5"/>
<rect x="64.44" y="657.46" width="15.12" height="11.62" fill="#f8fde5"/>
<rect x="79.51" y="657.46" width="15.12" height="11.62" fill="#f8fde5"/>
<rect x="94.58" y="657.46" width="15.12" height="11.62" fill="#f8fde5"/>
<rect x="109.65" y="657.46" width="15.12" height="11.62" fill="#f8fde5"/>
<rect x="124.72" y="657.46" width="15.12" height="11.62" fill="#f2edbc"/>
<rect x="139.79" y="657.46" width="15.12" height="11.62" fill="#f8fde5"/>
<rect x="154.86" y="657.46" width="15.12" height="11.62" fill="#6b2518"/>
<rect x="169.93" y="657.46" width="15.12" height="11.62" fill="#f2edbc"/>
<rect x="34.3" y="669.03" width="15.12" height="11.62" fill="#f8fde5"/>
<rect x="49.37" y="669.03" width="15.12" height="11.62" fill="#f8fde5"/>
<rect x="64.44" y="669.03" width="15.12" height="11.62" fill="#f8fde5"/>
<rect x="79.51" y="669.03" width="15.12" height="11.62" fill="#f8fde5"/>
<rect x="94.58" y="669.03" width="15.12" height="11.62" fill="#f8fde5"/>
<rect x="109.65" y="669.03" width="15.12" height="11.62" fill="#f8fde5"/>
<rect x="124.72" y="669.03" width="15.12" height="11.62" fill="#f8fde5"/>
<rect x="139.79" y="669.03" width="15.12" height="11.62" fill="#e7cb6a"/>
<rect x="154.86" y="669.03" width="15.12" height="11.62" fill="#f2edbc"/>
<rect x="169.93" y="669.03" width="15.12" height="11.62" fill="#6b2518"/>
<path d="M34.3 564.9V680.6M34.3 564.9H185M49.37 564.9V680.6M34.3 576.47H185M64.44 564.9V680.6M34.3 588.04H185M79.51 564.9V680.6M34.3 599.61H185M94.58 564.9V680.6M34.3 611.18H185M109.65 564.9V680.6M34.3 622.75H185M124.72 564.9V680.6M34.3 634.32H185M139.79 564.9V680.6M34.3 645.89H185M154.86 564.9V680.6M34.3 657.46H185M169.93 564.9V680.6M34.3 669.03H185M185 564.9V680.6M34.3 680.6H185" stroke="#8a8a70" stroke-opacity="0.28" stroke-width="0.6" fill="none"/>
<path d="M56.91 564.9V563.4M71.97 564.9V563.4M56.91 563.4H71.97M41.83 564.9V561.3M64.44 563.4V561.3M41.83 561.3H64.44M102.11 564.9V563.1M117.19 564.9V563.1M102.11 563.1H117.19M87.05 564.9V561.3M109.65 563.1V561.3M87.05 561.3H109.65M53.14 561.3V560.5M98.35 561.3V560.5M53.14 560.5H98.35M132.25 564.9V559.2M147.32 564.9V559.2M132.25 559.2H147.32M162.39 564.9V559.2M177.46 564.9V559.2M162.39 559.2H177.46M139.79 559.2V558.5M169.93 559.2V558.5M139.79 558.5H169.93M75.74 560.5V554.4M154.86 558.5V554.4M75.74 554.4H154.86" stroke="#9a9a9a" stroke-width="0.7" fill="none"/>
<path d="M34.3 582.25H32.8M34.3 593.82H32.8M32.8 582.25V593.82M34.3 570.68H30.7M32.8 588.04H30.7M30.7 570.68V588.04M34.3 616.96H32.5M34.3 628.53H32.5M32.5 616.96V628.53M34.3 605.39H30.7M32.5 622.75H30.7M30.7 605.39V622.75M30.7 579.36H29.9M30.7 614.07H29.9M29.9 579.36V614.07M34.3 640.11H28.6M34.3 651.67H28.6M28.6 640.11V651.67M34.3 663.25H28.6M34.3 674.81H28.6M28.6 663.25V674.81M28.6 645.89H27.9M28.6 669.03H27.9M27.9 645.89V669.03M29.9 596.72H23.8M27.9 657.46H23.8M23.8 596.72V657.46" stroke="#9a9a9a" stroke-width="0.7" fill="none"/>
<text x="186" y="573.45" font-family="'Liberation Serif', 'Times New Roman', serif" font-size="7.6" fill="#1a1a1a" stroke="#1a1a1a" stroke-width="0.2">GeTMM</text>
<text x="186" y="585.13" font-family="'Liberation Serif', 'Times New Roman', serif" font-size="7.6" fill="#1a1a1a" stroke="#1a1a1a" stroke-width="0.2">RLE</text>
<text x="186" y="596.81" font-family="'Liberation Serif', 'Times New Roman', serif" font-size="7.6" fill="#1a1a1a" stroke="#1a1a1a" stroke-width="0.2">TMM</text>
<text x="186" y="608.49" font-family="'Liberation Serif', 'Times New Roman', serif" font-size="7.6" fill="#1a1a1a" stroke="#1a1a1a" stroke-width="0.2">GeTMM<tspan style="font-size:6.6px;font-style:italic;font-family:'Liberation Sans',Arial,sans-serif;" dy="1.8">cov</tspan></text>
<text x="186" y="620.17" font-family="'Liberation Serif', 'Times New Roman', serif" font-size="7.6" fill="#1a1a1a" stroke="#1a1a1a" stroke-width="0.2">RLE<tspan style="font-size:6.6px;font-style:italic;font-family:'Liberation Sans',Arial,sans-serif;" dy="1.8">cov</tspan></text>
<text x="186" y="631.85" font-family="'Liberation Serif', 'Times New Roman', serif" font-size="7.6" fill="#1a1a1a" stroke="#1a1a1a" stroke-width="0.2">TMM<tspan style="font-size:6.6px;font-style:italic;font-family:'Liberation Sans',Arial,sans-serif;" dy="1.8">cov</tspan></text>
<text x="186" y="643.53" font-family="'Liberation Serif', 'Times New Roman', serif" font-size="7.6" fill="#1a1a1a" stroke="#1a1a1a" stroke-width="0.2">FPKM</text>
<text x="186" y="655.21" font-family="'Liberation Serif', 'Times New Roman', serif" font-size="7.6" fill="#1a1a1a" stroke="#1a1a1a" stroke-width="0.2">FPKM<tspan style="font-size:6.6px;font-style:italic;font-family:'Liberation Sans',Arial,sans-serif;" dy="1.8">cov</tspan></text>
<text x="186" y="666.89" font-family="'Liberation Serif', 'Times New Roman', serif" font-size="7.6" fill="#1a1a1a" stroke="#1a1a1a" stroke-width="0.2">TPM</text>
<text x="186" y="678.57" font-family="'Liberation Serif', 'Times New Roman', serif" font-size="7.6" fill="#1a1a1a" stroke="#1a1a1a" stroke-width="0.2">TPM<tspan style="font-size:6.6px;font-style:italic;font-family:'Liberation Sans',Arial,sans-serif;" dy="1.8">cov</tspan></text>
<text transform="translate(46.43 685.3) rotate(-50)" font-family="'Liberation Serif', 'Times New Roman', serif" font-size="7.1" fill="#1a1a1a" stroke="#1a1a1a" stroke-width="0.2" text-anchor="end">GeTMM</text>
<text transform="translate(61.51 685.3) rotate(-50)" font-family="'Liberation Serif', 'Times New Roman', serif" font-size="7.1" fill="#1a1a1a" stroke="#1a1a1a" stroke-width="0.2" text-anchor="end">RLE</text>
<text transform="translate(76.57 685.3) rotate(-50)" font-family="'Liberation Serif', 'Times New Roman', serif" font-size="7.1" fill="#1a1a1a" stroke="#1a1a1a" stroke-width="0.2" text-anchor="end">TMM</text>
<text transform="translate(91.64 685.3) rotate(-50)" font-family="'Liberation Serif', 'Times New Roman', serif" font-size="7.1" fill="#1a1a1a" stroke="#1a1a1a" stroke-width="0.2" text-anchor="end">GeTMM<tspan style="font-size:6.2px;font-style:italic;font-family:'Liberation Sans',Arial,sans-serif;" dy="1.3">cov</tspan></text>
<text transform="translate(106.71 685.3) rotate(-50)" font-family="'Liberation Serif', 'Times New Roman', serif" font-size="7.1" fill="#1a1a1a" stroke="#1a1a1a" stroke-width="0.2" text-anchor="end">RLE<tspan style="font-size:6.2px;font-style:italic;font-family:'Liberation Sans',Arial,sans-serif;" dy="1.3">cov</tspan></text>
<text transform="translate(121.78 685.3) rotate(-50)" font-family="'Liberation Serif', 'Times New Roman', serif" font-size="7.1" fill="#1a1a1a" stroke="#1a1a1a" stroke-width="0.2" text-anchor="end">TMM<tspan style="font-size:6.2px;font-style:italic;font-family:'Liberation Sans',Arial,sans-serif;" dy="1.3">cov</tspan></text>
<text transform="translate(136.85 685.3) rotate(-50)" font-family="'Liberation Serif', 'Times New Roman', serif" font-size="7.1" fill="#1a1a1a" stroke="#1a1a1a" stroke-width="0.2" text-anchor="end">FPKM</text>
<text transform="translate(151.92 685.3) rotate(-50)" font-family="'Liberation Serif', 'Times New Roman', serif" font-size="7.1" fill="#1a1a1a" stroke="#1a1a1a" stroke-width="0.2" text-anchor="end">FPKM<tspan style="font-size:6.2px;font-style:italic;font-family:'Liberation Sans',Arial,sans-serif;" dy="1.3">cov</tspan></text>
<text transform="translate(166.99 685.3) rotate(-50)" font-family="'Liberation Serif', 'Times New Roman', serif" font-size="7.1" fill="#1a1a1a" stroke="#1a1a1a" stroke-width="0.2" text-anchor="end">TPM</text>
<text transform="translate(182.06 685.3) rotate(-50)" font-family="'Liberation Serif', 'Times New Roman', serif" font-size="7.1" fill="#1a1a1a" stroke="#1a1a1a" stroke-width="0.2" text-anchor="end">TPM<tspan style="font-size:6.2px;font-style:italic;font-family:'Liberation Sans',Arial,sans-serif;" dy="1.3">cov</tspan></text>
<rect x="224.9" y="567.7" width="2.7" height="5.74" fill="#6b2518"/>
<rect x="224.9" y="573.39" width="2.7" height="5.74" fill="#ad4b17"/>
<rect x="224.9" y="579.07" width="2.7" height="5.74" fill="#df7622"/>
<rect x="224.9" y="584.76" width="2.7" height="5.74" fill="#e2a42d"/>
<rect x="224.9" y="590.44" width="2.7" height="5.74" fill="#e7cb6a"/>
<rect x="224.9" y="596.13" width="2.7" height="5.74" fill="#f2edbc"/>
<rect x="224.9" y="601.81" width="2.7" height="5.74" fill="#f8fde5"/>
<text x="228.6" y="569.6" font-size="2.6" fill="#555">1</text>
<text x="228.6" y="576.87" font-size="2.6" fill="#555">0.8</text>
<text x="228.6" y="584.14" font-size="2.6" fill="#555">0.6</text>
<text x="228.6" y="591.41" font-size="2.6" fill="#555">0.4</text>
<text x="228.6" y="598.68" font-size="2.6" fill="#555">0.2</text>
<text x="228.6" y="605.95" font-size="2.6" fill="#555">0</text>
<rect x="253.2" y="566.6" width="15.11" height="11.77" fill="#6b2518"/>
<rect x="268.26" y="566.6" width="15.11" height="11.77" fill="#e7cb6a"/>
<rect x="283.32" y="566.6" width="15.11" height="11.77" fill="#e7cb6a"/>
<rect x="298.38" y="566.6" width="15.11" height="11.77" fill="#f8fde5"/>
<rect x="313.44" y="566.6" width="15.11" height="11.77" fill="#f8fde5"/>
<rect x="328.5" y="566.6" width="15.11" height="11.77" fill="#f8fde5"/>
<rect x="343.56" y="566.6" width="15.11" height="11.77" fill="#f8fde5"/>
<rect x="358.62" y="566.6" width="15.11" height="11.77" fill="#f8fde5"/>
<rect x="373.68" y="566.6" width="15.11" height="11.77" fill="#f8fde5"/>
<rect x="388.74" y="566.6" width="15.11" height="11.77" fill="#f8fde5"/>
<rect x="253.2" y="578.32" width="15.11" height="11.77" fill="#e7cb6a"/>
<rect x="268.26" y="578.32" width="15.11" height="11.77" fill="#6b2518"/>
<rect x="283.32" y="578.32" width="15.11" height="11.77" fill="#df7622"/>
<rect x="298.38" y="578.32" width="15.11" height="11.77" fill="#f8fde5"/>
<rect x="313.44" y="578.32" width="15.11" height="11.77" fill="#f8fde5"/>
<rect x="328.5" y="578.32" width="15.11" height="11.77" fill="#f8fde5"/>
<rect x="343.56" y="578.32" width="15.11" height="11.77" fill="#f8fde5"/>
<rect x="358.62" y="578.32" width="15.11" height="11.77" fill="#f8fde5"/>
<rect x="373.68" y="578.32" width="15.11" height="11.77" fill="#f8fde5"/>
<rect x="388.74" y="578.32" width="15.11" height="11.77" fill="#f8fde5"/>
<rect x="253.2" y="590.04" width="15.11" height="11.77" fill="#e7cb6a"/>
<rect x="268.26" y="590.04" width="15.11" height="11.77" fill="#df7622"/>
<rect x="283.32" y="590.04" width="15.11" height="11.77" fill="#6b2518"/>
<rect x="298.38" y="590.04" width="15.11" height="11.77" fill="#f8fde5"/>
<rect x="313.44" y="590.04" width="15.11" height="11.77" fill="#f8fde5"/>
<rect x="328.5" y="590.04" width="15.11" height="11.77" fill="#f8fde5"/>
<rect x="343.56" y="590.04" width="15.11" height="11.77" fill="#f8fde5"/>
<rect x="358.62" y="590.04" width="15.11" height="11.77" fill="#f8fde5"/>
<rect x="373.68" y="590.04" width="15.11" height="11.77" fill="#f8fde5"/>
<rect x="388.74" y="590.04" width="15.11" height="11.77" fill="#f8fde5"/>
<rect x="253.2" y="601.76" width="15.11" height="11.77" fill="#f8fde5"/>
<rect x="268.26" y="601.76" width="15.11" height="11.77" fill="#f8fde5"/>
<rect x="283.32" y="601.76" width="15.11" height="11.77" fill="#f8fde5"/>
<rect x="298.38" y="601.76" width="15.11" height="11.77" fill="#6b2518"/>
<rect x="313.44" y="601.76" width="15.11" height="11.77" fill="#f8fde5"/>
<rect x="328.5" y="601.76" width="15.11" height="11.77" fill="#f2edbc"/>
<rect x="343.56" y="601.76" width="15.11" height="11.77" fill="#f8fde5"/>
<rect x="358.62" y="601.76" width="15.11" height="11.77" fill="#f8fde5"/>
<rect x="373.68" y="601.76" width="15.11" height="11.77" fill="#f8fde5"/>
<rect x="388.74" y="601.76" width="15.11" height="11.77" fill="#f8fde5"/>
<rect x="253.2" y="613.48" width="15.11" height="11.77" fill="#f8fde5"/>
<rect x="268.26" y="613.48" width="15.11" height="11.77" fill="#f8fde5"/>
<rect x="283.32" y="613.48" width="15.11" height="11.77" fill="#f8fde5"/>
<rect x="298.38" y="613.48" width="15.11" height="11.77" fill="#f8fde5"/>
<rect x="313.44" y="613.48" width="15.11" height="11.77" fill="#6b2518"/>
<rect x="328.5" y="613.48" width="15.11" height="11.77" fill="#e2a42d"/>
<rect x="343.56" y="613.48" width="15.11" height="11.77" fill="#f8fde5"/>
<rect x="358.62" y="613.48" width="15.11" height="11.77" fill="#f8fde5"/>
<rect x="373.68" y="613.48" width="15.11" height="11.77" fill="#f8fde5"/>
<rect x="388.74" y="613.48" width="15.11" height="11.77" fill="#f8fde5"/>
<rect x="253.2" y="625.2" width="15.11" height="11.77" fill="#f8fde5"/>
<rect x="268.26" y="625.2" width="15.11" height="11.77" fill="#f8fde5"/>
<rect x="283.32" y="625.2" width="15.11" height="11.77" fill="#f8fde5"/>
<rect x="298.38" y="625.2" width="15.11" height="11.77" fill="#f2edbc"/>
<rect x="313.44" y="625.2" width="15.11" height="11.77" fill="#e2a42d"/>
<rect x="328.5" y="625.2" width="15.11" height="11.77" fill="#6b2518"/>
<rect x="343.56" y="625.2" width="15.11" height="11.77" fill="#f8fde5"/>
<rect x="358.62" y="625.2" width="15.11" height="11.77" fill="#f8fde5"/>
<rect x="373.68" y="625.2" width="15.11" height="11.77" fill="#f8fde5"/>
<rect x="388.74" y="625.2" width="15.11" height="11.77" fill="#f8fde5"/>
<rect x="253.2" y="636.92" width="15.11" height="11.77" fill="#f8fde5"/>
<rect x="268.26" y="636.92" width="15.11" height="11.77" fill="#f8fde5"/>
<rect x="283.32" y="636.92" width="15.11" height="11.77" fill="#f8fde5"/>
<rect x="298.38" y="636.92" width="15.11" height="11.77" fill="#f8fde5"/>
<rect x="313.44" y="636.92" width="15.11" height="11.77" fill="#f8fde5"/>
<rect x="328.5" y="636.92" width="15.11" height="11.77" fill="#f8fde5"/>
<rect x="343.56" y="636.92" width="15.11" height="11.77" fill="#6b2518"/>
<rect x="358.62" y="636.92" width="15.11" height="11.77" fill="#f2edbc"/>
<rect x="373.68" y="636.92" width="15.11" height="11.77" fill="#f8fde5"/>
<rect x="388.74" y="636.92" width="15.11" height="11.77" fill="#f8fde5"/>
<rect x="253.2" y="648.64" width="15.11" height="11.77" fill="#f8fde5"/>
<rect x="268.26" y="648.64" width="15.11" height="11.77" fill="#f8fde5"/>
<rect x="283.32" y="648.64" width="15.11" height="11.77" fill="#f8fde5"/>
<rect x="298.38" y="648.64" width="15.11" height="11.77" fill="#f8fde5"/>
<rect x="313.44" y="648.64" width="15.11" height="11.77" fill="#f8fde5"/>
<rect x="328.5" y="648.64" width="15.11" height="11.77" fill="#f8fde5"/>
<rect x="343.56" y="648.64" width="15.11" height="11.77" fill="#f2edbc"/>
<rect x="358.62" y="648.64" width="15.11" height="11.77" fill="#6b2518"/>
<rect x="373.68" y="648.64" width="15.11" height="11.77" fill="#f8fde5"/>
<rect x="388.74" y="648.64" width="15.11" height="11.77" fill="#f8fde5"/>
<rect x="253.2" y="660.36" width="15.11" height="11.77" fill="#f8fde5"/>
<rect x="268.26" y="660.36" width="15.11" height="11.77" fill="#f8fde5"/>
<rect x="283.32" y="660.36" width="15.11" height="11.77" fill="#f8fde5"/>
<rect x="298.38" y="660.36" width="15.11" height="11.77" fill="#f8fde5"/>
<rect x="313.44" y="660.36" width="15.11" height="11.77" fill="#f8fde5"/>
<rect x="328.5" y="660.36" width="15.11" height="11.77" fill="#f8fde5"/>
<rect x="343.56" y="660.36" width="15.11" height="11.77" fill="#f8fde5"/>
<rect x="358.62" y="660.36" width="15.11" height="11.77" fill="#f8fde5"/>
<rect x="373.68" y="660.36" width="15.11" height="11.77" fill="#6b2518"/>
<rect x="388.74" y="660.36" width="15.11" height="11.77" fill="#f2edbc"/>
<rect x="253.2" y="672.08" width="15.11" height="11.77" fill="#f8fde5"/>
<rect x="268.26" y="672.08" width="15.11" height="11.77" fill="#f8fde5"/>
<rect x="283.32" y="672.08" width="15.11" height="11.77" fill="#f8fde5"/>
<rect x="298.38" y="672.08" width="15.11" height="11.77" fill="#f8fde5"/>
<rect x="313.44" y="672.08" width="15.11" height="11.77" fill="#f8fde5"/>
<rect x="328.5" y="672.08" width="15.11" height="11.77" fill="#f8fde5"/>
<rect x="343.56" y="672.08" width="15.11" height="11.77" fill="#f8fde5"/>
<rect x="358.62" y="672.08" width="15.11" height="11.77" fill="#f8fde5"/>
<rect x="373.68" y="672.08" width="15.11" height="11.77" fill="#f2edbc"/>
<rect x="388.74" y="672.08" width="15.11" height="11.77" fill="#6b2518"/>
<path d="M253.2 566.6V683.8M253.2 566.6H403.8M268.26 566.6V683.8M253.2 578.32H403.8M283.32 566.6V683.8M253.2 590.04H403.8M298.38 566.6V683.8M253.2 601.76H403.8M313.44 566.6V683.8M253.2 613.48H403.8M328.5 566.6V683.8M253.2 625.2H403.8M343.56 566.6V683.8M253.2 636.92H403.8M358.62 566.6V683.8M253.2 648.64H403.8M373.68 566.6V683.8M253.2 660.36H403.8M388.74 566.6V683.8M253.2 672.08H403.8M403.8 566.6V683.8M253.2 683.8H403.8" stroke="#8a8a70" stroke-opacity="0.28" stroke-width="0.6" fill="none"/>
<path d="M275.79 566.6V562.9M290.85 566.6V562.9M275.79 562.9H290.85M260.73 566.6V558.9M283.32 562.9V558.9M260.73 558.9H283.32M320.97 566.6V560.5M336.03 566.6V560.5M320.97 560.5H336.03M305.91 566.6V557.7M328.5 560.5V557.7M305.91 557.7H328.5M272.02 558.9V554.2M317.2 557.7V554.2M272.02 554.2H317.2M351.09 566.6V558.9M366.15 566.6V558.9M351.09 558.9H366.15M381.21 566.6V558.9M396.27 566.6V558.9M381.21 558.9H396.27M358.62 558.9V557M388.74 558.9V557M358.62 557H388.74M294.62 554.2V553.5M373.68 557V553.5M294.62 553.5H373.68" stroke="#9a9a9a" stroke-width="0.7" fill="none"/>
<path d="M253.2 584.18H249.5M253.2 595.9H249.5M249.5 584.18V595.9M253.2 572.46H245.5M249.5 590.04H245.5M245.5 572.46V590.04M253.2 619.34H247.1M253.2 631.06H247.1M247.1 619.34V631.06M253.2 607.62H244.3M247.1 625.2H244.3M244.3 607.62V625.2M245.5 581.25H240.8M244.3 616.41H240.8M240.8 581.25V616.41M253.2 642.78H245.5M253.2 654.5H245.5M245.5 642.78V654.5M253.2 666.22H245.5M253.2 677.94H245.5M245.5 666.22V677.94M245.5 648.64H243.6M245.5 672.08H243.6M243.6 648.64V672.08M240.8 598.83H240.1M243.6 660.36H240.1M240.1 598.83V660.36" stroke="#9a9a9a" stroke-width="0.7" fill="none"/>
<text x="404.8" y="576" font-family="'Liberation Serif', 'Times New Roman', serif" font-size="7.6" fill="#1a1a1a" stroke="#1a1a1a" stroke-width="0.2">GeTMM<tspan style="font-size:6.6px;font-style:italic;font-family:'Liberation Sans',Arial,sans-serif;" dy="1.8">cov</tspan></text>
<text x="404.8" y="587.78" font-family="'Liberation Serif', 'Times New Roman', serif" font-size="7.6" fill="#1a1a1a" stroke="#1a1a1a" stroke-width="0.2">RLE<tspan style="font-size:6.6px;font-style:italic;font-family:'Liberation Sans',Arial,sans-serif;" dy="1.8">cov</tspan></text>
<text x="404.8" y="599.56" font-family="'Liberation Serif', 'Times New Roman', serif" font-size="7.6" fill="#1a1a1a" stroke="#1a1a1a" stroke-width="0.2">TMM<tspan style="font-size:6.6px;font-style:italic;font-family:'Liberation Sans',Arial,sans-serif;" dy="1.8">cov</tspan></text>
<text x="404.8" y="611.34" font-family="'Liberation Serif', 'Times New Roman', serif" font-size="7.6" fill="#1a1a1a" stroke="#1a1a1a" stroke-width="0.2">GeTMM</text>
<text x="404.8" y="623.12" font-family="'Liberation Serif', 'Times New Roman', serif" font-size="7.6" fill="#1a1a1a" stroke="#1a1a1a" stroke-width="0.2">RLE</text>
<text x="404.8" y="634.9" font-family="'Liberation Serif', 'Times New Roman', serif" font-size="7.6" fill="#1a1a1a" stroke="#1a1a1a" stroke-width="0.2">TMM</text>
<text x="404.8" y="646.68" font-family="'Liberation Serif', 'Times New Roman', serif" font-size="7.6" fill="#1a1a1a" stroke="#1a1a1a" stroke-width="0.2">FPKM</text>
<text x="404.8" y="658.46" font-family="'Liberation Serif', 'Times New Roman', serif" font-size="7.6" fill="#1a1a1a" stroke="#1a1a1a" stroke-width="0.2">FPKM<tspan style="font-size:6.6px;font-style:italic;font-family:'Liberation Sans',Arial,sans-serif;" dy="1.8">cov</tspan></text>
<text x="404.8" y="670.24" font-family="'Liberation Serif', 'Times New Roman', serif" font-size="7.6" fill="#1a1a1a" stroke="#1a1a1a" stroke-width="0.2">TPM</text>
<text x="404.8" y="682.02" font-family="'Liberation Serif', 'Times New Roman', serif" font-size="7.6" fill="#1a1a1a" stroke="#1a1a1a" stroke-width="0.2">TPM<tspan style="font-size:6.6px;font-style:italic;font-family:'Liberation Sans',Arial,sans-serif;" dy="1.8">cov</tspan></text>
<text transform="translate(265.33 688.5) rotate(-50)" font-family="'Liberation Serif', 'Times New Roman', serif" font-size="7.1" fill="#1a1a1a" stroke="#1a1a1a" stroke-width="0.2" text-anchor="end">GeTMM<tspan style="font-size:6.2px;font-style:italic;font-family:'Liberation Sans',Arial,sans-serif;" dy="1.3">cov</tspan></text>
<text transform="translate(280.39 688.5) rotate(-50)" font-family="'Liberation Serif', 'Times New Roman', serif" font-size="7.1" fill="#1a1a1a" stroke="#1a1a1a" stroke-width="0.2" text-anchor="end">RLE<tspan style="font-size:6.2px;font-style:italic;font-family:'Liberation Sans',Arial,sans-serif;" dy="1.3">cov</tspan></text>
<text transform="translate(295.45 688.5) rotate(-50)" font-family="'Liberation Serif', 'Times New Roman', serif" font-size="7.1" fill="#1a1a1a" stroke="#1a1a1a" stroke-width="0.2" text-anchor="end">TMM<tspan style="font-size:6.2px;font-style:italic;font-family:'Liberation Sans',Arial,sans-serif;" dy="1.3">cov</tspan></text>
<text transform="translate(310.51 688.5) rotate(-50)" font-family="'Liberation Serif', 'Times New Roman', serif" font-size="7.1" fill="#1a1a1a" stroke="#1a1a1a" stroke-width="0.2" text-anchor="end">GeTMM</text>
<text transform="translate(325.57 688.5) rotate(-50)" font-family="'Liberation Serif', 'Times New Roman', serif" font-size="7.1" fill="#1a1a1a" stroke="#1a1a1a" stroke-width="0.2" text-anchor="end">RLE</text>
<text transform="translate(340.63 688.5) rotate(-50)" font-family="'Liberation Serif', 'Times New Roman', serif" font-size="7.1" fill="#1a1a1a" stroke="#1a1a1a" stroke-width="0.2" text-anchor="end">TMM</text>
<text transform="translate(355.69 688.5) rotate(-50)" font-family="'Liberation Serif', 'Times New Roman', serif" font-size="7.1" fill="#1a1a1a" stroke="#1a1a1a" stroke-width="0.2" text-anchor="end">FPKM</text>
<text transform="translate(370.75 688.5) rotate(-50)" font-family="'Liberation Serif', 'Times New Roman', serif" font-size="7.1" fill="#1a1a1a" stroke="#1a1a1a" stroke-width="0.2" text-anchor="end">FPKM<tspan style="font-size:6.2px;font-style:italic;font-family:'Liberation Sans',Arial,sans-serif;" dy="1.3">cov</tspan></text>
<text transform="translate(385.81 688.5) rotate(-50)" font-family="'Liberation Serif', 'Times New Roman', serif" font-size="7.1" fill="#1a1a1a" stroke="#1a1a1a" stroke-width="0.2" text-anchor="end">TPM</text>
<text transform="translate(400.87 688.5) rotate(-50)" font-family="'Liberation Serif', 'Times New Roman', serif" font-size="7.1" fill="#1a1a1a" stroke="#1a1a1a" stroke-width="0.2" text-anchor="end">TPM<tspan style="font-size:6.2px;font-style:italic;font-family:'Liberation Sans',Arial,sans-serif;" dy="1.3">cov</tspan></text>
<rect x="445" y="570" width="2.7" height="5.34" fill="#6b2518"/>
<rect x="445" y="575.29" width="2.7" height="5.34" fill="#ad4b17"/>
<rect x="445" y="580.57" width="2.7" height="5.34" fill="#df7622"/>
<rect x="445" y="585.86" width="2.7" height="5.34" fill="#e2a42d"/>
<rect x="445" y="591.14" width="2.7" height="5.34" fill="#e7cb6a"/>
<rect x="445" y="596.43" width="2.7" height="5.34" fill="#f2edbc"/>
<rect x="445" y="601.71" width="2.7" height="5.34" fill="#f8fde5"/>
<text x="448.7" y="571.9" font-size="2.6" fill="#555">1</text>
<text x="448.7" y="578.63" font-size="2.6" fill="#555">0.8</text>
<text x="448.7" y="585.36" font-size="2.6" fill="#555">0.6</text>
<text x="448.7" y="592.09" font-size="2.6" fill="#555">0.4</text>
<text x="448.7" y="598.82" font-size="2.6" fill="#555">0.2</text>
<text x="448.7" y="605.55" font-size="2.6" fill="#555">0</text>
<rect x="477" y="568.9" width="15.16" height="11.54" fill="#6b2518"/>
<rect x="492.11" y="568.9" width="15.16" height="11.54" fill="#f2edbc"/>
<rect x="507.22" y="568.9" width="15.16" height="11.54" fill="#f2edbc"/>
<rect x="522.33" y="568.9" width="15.16" height="11.54" fill="#f2edbc"/>
<rect x="537.44" y="568.9" width="15.16" height="11.54" fill="#f2edbc"/>
<rect x="552.55" y="568.9" width="15.16" height="11.54" fill="#f8fde5"/>
<rect x="567.66" y="568.9" width="15.16" height="11.54" fill="#f8fde5"/>
<rect x="582.77" y="568.9" width="15.16" height="11.54" fill="#f8fde5"/>
<rect x="597.88" y="568.9" width="15.16" height="11.54" fill="#f2edbc"/>
<rect x="612.99" y="568.9" width="15.16" height="11.54" fill="#f2edbc"/>
<rect x="477" y="580.39" width="15.16" height="11.54" fill="#f2edbc"/>
<rect x="492.11" y="580.39" width="15.16" height="11.54" fill="#6b2518"/>
<rect x="507.22" y="580.39" width="15.16" height="11.54" fill="#e2a42d"/>
<rect x="522.33" y="580.39" width="15.16" height="11.54" fill="#f8fde5"/>
<rect x="537.44" y="580.39" width="15.16" height="11.54" fill="#f8fde5"/>
<rect x="552.55" y="580.39" width="15.16" height="11.54" fill="#f8fde5"/>
<rect x="567.66" y="580.39" width="15.16" height="11.54" fill="#f8fde5"/>
<rect x="582.77" y="580.39" width="15.16" height="11.54" fill="#f8fde5"/>
<rect x="597.88" y="580.39" width="15.16" height="11.54" fill="#f8fde5"/>
<rect x="612.99" y="580.39" width="15.16" height="11.54" fill="#f8fde5"/>
<rect x="477" y="591.88" width="15.16" height="11.54" fill="#f2edbc"/>
<rect x="492.11" y="591.88" width="15.16" height="11.54" fill="#e2a42d"/>
<rect x="507.22" y="591.88" width="15.16" height="11.54" fill="#6b2518"/>
<rect x="522.33" y="591.88" width="15.16" height="11.54" fill="#f8fde5"/>
<rect x="537.44" y="591.88" width="15.16" height="11.54" fill="#f8fde5"/>
<rect x="552.55" y="591.88" width="15.16" height="11.54" fill="#f8fde5"/>
<rect x="567.66" y="591.88" width="15.16" height="11.54" fill="#f2edbc"/>
<rect x="582.77" y="591.88" width="15.16" height="11.54" fill="#f8fde5"/>
<rect x="597.88" y="591.88" width="15.16" height="11.54" fill="#f8fde5"/>
<rect x="612.99" y="591.88" width="15.16" height="11.54" fill="#f8fde5"/>
<rect x="477" y="603.37" width="15.16" height="11.54" fill="#f2edbc"/>
<rect x="492.11" y="603.37" width="15.16" height="11.54" fill="#f8fde5"/>
<rect x="507.22" y="603.37" width="15.16" height="11.54" fill="#f8fde5"/>
<rect x="522.33" y="603.37" width="15.16" height="11.54" fill="#6b2518"/>
<rect x="537.44" y="603.37" width="15.16" height="11.54" fill="#e7cb6a"/>
<rect x="552.55" y="603.37" width="15.16" height="11.54" fill="#f2edbc"/>
<rect x="567.66" y="603.37" width="15.16" height="11.54" fill="#f2edbc"/>
<rect x="582.77" y="603.37" width="15.16" height="11.54" fill="#f8fde5"/>
<rect x="597.88" y="603.37" width="15.16" height="11.54" fill="#f8fde5"/>
<rect x="612.99" y="603.37" width="15.16" height="11.54" fill="#f2edbc"/>
<rect x="477" y="614.86" width="15.16" height="11.54" fill="#f2edbc"/>
<rect x="492.11" y="614.86" width="15.16" height="11.54" fill="#f8fde5"/>
<rect x="507.22" y="614.86" width="15.16" height="11.54" fill="#f8fde5"/>
<rect x="522.33" y="614.86" width="15.16" height="11.54" fill="#e7cb6a"/>
<rect x="537.44" y="614.86" width="15.16" height="11.54" fill="#6b2518"/>
<rect x="552.55" y="614.86" width="15.16" height="11.54" fill="#f8fde5"/>
<rect x="567.66" y="614.86" width="15.16" height="11.54" fill="#f2edbc"/>
<rect x="582.77" y="614.86" width="15.16" height="11.54" fill="#f2edbc"/>
<rect x="597.88" y="614.86" width="15.16" height="11.54" fill="#f8fde5"/>
<rect x="612.99" y="614.86" width="15.16" height="11.54" fill="#f2edbc"/>
<rect x="477" y="626.35" width="15.16" height="11.54" fill="#f8fde5"/>
<rect x="492.11" y="626.35" width="15.16" height="11.54" fill="#f8fde5"/>
<rect x="507.22" y="626.35" width="15.16" height="11.54" fill="#f8fde5"/>
<rect x="522.33" y="626.35" width="15.16" height="11.54" fill="#f2edbc"/>
<rect x="537.44" y="626.35" width="15.16" height="11.54" fill="#f8fde5"/>
<rect x="552.55" y="626.35" width="15.16" height="11.54" fill="#6b2518"/>
<rect x="567.66" y="626.35" width="15.16" height="11.54" fill="#e7cb6a"/>
<rect x="582.77" y="626.35" width="15.16" height="11.54" fill="#f2edbc"/>
<rect x="597.88" y="626.35" width="15.16" height="11.54" fill="#f2edbc"/>
<rect x="612.99" y="626.35" width="15.16" height="11.54" fill="#f2edbc"/>
<rect x="477" y="637.84" width="15.16" height="11.54" fill="#f8fde5"/>
<rect x="492.11" y="637.84" width="15.16" height="11.54" fill="#f8fde5"/>
<rect x="507.22" y="637.84" width="15.16" height="11.54" fill="#f2edbc"/>
<rect x="522.33" y="637.84" width="15.16" height="11.54" fill="#f2edbc"/>
<rect x="537.44" y="637.84" width="15.16" height="11.54" fill="#f2edbc"/>
<rect x="552.55" y="637.84" width="15.16" height="11.54" fill="#e7cb6a"/>
<rect x="567.66" y="637.84" width="15.16" height="11.54" fill="#6b2518"/>
<rect x="582.77" y="637.84" width="15.16" height="11.54" fill="#e7cb6a"/>
<rect x="597.88" y="637.84" width="15.16" height="11.54" fill="#f2edbc"/>
<rect x="612.99" y="637.84" width="15.16" height="11.54" fill="#e7cb6a"/>
<rect x="477" y="649.33" width="15.16" height="11.54" fill="#f8fde5"/>
<rect x="492.11" y="649.33" width="15.16" height="11.54" fill="#f8fde5"/>
<rect x="507.22" y="649.33" width="15.16" height="11.54" fill="#f8fde5"/>
<rect x="522.33" y="649.33" width="15.16" height="11.54" fill="#f8fde5"/>
<rect x="537.44" y="649.33" width="15.16" height="11.54" fill="#f2edbc"/>
<rect x="552.55" y="649.33" width="15.16" height="11.54" fill="#f2edbc"/>
<rect x="567.66" y="649.33" width="15.16" height="11.54" fill="#e7cb6a"/>
<rect x="582.77" y="649.33" width="15.16" height="11.54" fill="#6b2518"/>
<rect x="597.88" y="649.33" width="15.16" height="11.54" fill="#e7cb6a"/>
<rect x="612.99" y="649.33" width="15.16" height="11.54" fill="#e7cb6a"/>
<rect x="477" y="660.82" width="15.16" height="11.54" fill="#f2edbc"/>
<rect x="492.11" y="660.82" width="15.16" height="11.54" fill="#f8fde5"/>
<rect x="507.22" y="660.82" width="15.16" height="11.54" fill="#f8fde5"/>
<rect x="522.33" y="660.82" width="15.16" height="11.54" fill="#f8fde5"/>
<rect x="537.44" y="660.82" width="15.16" height="11.54" fill="#f8fde5"/>
<rect x="552.55" y="660.82" width="15.16" height="11.54" fill="#f2edbc"/>
<rect x="567.66" y="660.82" width="15.16" height="11.54" fill="#f2edbc"/>
<rect x="582.77" y="660.82" width="15.16" height="11.54" fill="#e7cb6a"/>
<rect x="597.88" y="660.82" width="15.16" height="11.54" fill="#6b2518"/>
<rect x="612.99" y="660.82" width="15.16" height="11.54" fill="#df7622"/>
<rect x="477" y="672.31" width="15.16" height="11.54" fill="#f2edbc"/>
<rect x="492.11" y="672.31" width="15.16" height="11.54" fill="#f8fde5"/>
<rect x="507.22" y="672.31" width="15.16" height="11.54" fill="#f8fde5"/>
<rect x="522.33" y="672.31" width="15.16" height="11.54" fill="#f2edbc"/>
<rect x="537.44" y="672.31" width="15.16" height="11.54" fill="#f2edbc"/>
<rect x="552.55" y="672.31" width="15.16" height="11.54" fill="#f2edbc"/>
<rect x="567.66" y="672.31" width="15.16" height="11.54" fill="#e7cb6a"/>
<rect x="582.77" y="672.31" width="15.16" height="11.54" fill="#e7cb6a"/>
<rect x="597.88" y="672.31" width="15.16" height="11.54" fill="#df7622"/>
<rect x="612.99" y="672.31" width="15.16" height="11.54" fill="#6b2518"/>
<path d="M477 568.9V683.8M477 568.9H628.1M492.11 568.9V683.8M477 580.39H628.1M507.22 568.9V683.8M477 591.88H628.1M522.33 568.9V683.8M477 603.37H628.1M537.44 568.9V683.8M477 614.86H628.1M552.55 568.9V683.8M477 626.35H628.1M567.66 568.9V683.8M477 637.84H628.1M582.77 568.9V683.8M477 649.33H628.1M597.88 568.9V683.8M477 660.82H628.1M612.99 568.9V683.8M477 672.31H628.1M628.1 568.9V683.8M477 683.8H628.1" stroke="#8a8a70" stroke-opacity="0.28" stroke-width="0.6" fill="none"/>
<path d="M499.67 568.9V564.5M514.77 568.9V564.5M499.67 564.5H514.77M484.56 568.9V560.5M507.22 564.5V560.5M484.56 560.5H507.22M529.88 568.9V564M545 568.9V564M529.88 564H545M495.89 560.5V557.5M537.44 564V557.5M495.89 557.5H537.44M560.11 568.9V564.5M575.22 568.9V564.5M560.11 564.5H575.22M605.43 568.9V565.2M620.54 568.9V565.2M605.43 565.2H620.54M590.33 568.9V561.2M612.99 565.2V561.2M590.33 561.2H612.99M567.66 564.5V559.8M601.66 561.2V559.8M567.66 559.8H601.66M516.66 557.5V556.5M584.66 559.8V556.5M516.66 556.5H584.66" stroke="#9a9a9a" stroke-width="0.7" fill="none"/>
<path d="M477 586.13H472.6M477 597.62H472.6M472.6 586.13V597.62M477 574.64H468.6M472.6 591.88H468.6M468.6 574.64V591.88M477 609.12H472.1M477 620.61H472.1M472.1 609.12V620.61M468.6 583.26H465.6M472.1 614.86H465.6M465.6 583.26V614.86M477 632.1H472.6M477 643.59H472.6M472.6 632.1V643.59M477 666.56H473.3M477 678.05H473.3M473.3 666.56V678.05M477 655.07H469.3M473.3 672.31H469.3M469.3 655.07V672.31M472.6 637.84H467.9M469.3 663.69H467.9M467.9 637.84V663.69M465.6 599.06H464.6M467.9 650.77H464.6M464.6 599.06V650.77" stroke="#9a9a9a" stroke-width="0.7" fill="none"/>
<text x="629.1" y="577" font-family="'Liberation Serif', 'Times New Roman', serif" font-size="7.6" fill="#1a1a1a" stroke="#1a1a1a" stroke-width="0.2">GeTMM<tspan style="font-size:6.6px;font-style:italic;font-family:'Liberation Sans',Arial,sans-serif;" dy="1.8">cov</tspan></text>
<text x="629.1" y="588.53" font-family="'Liberation Serif', 'Times New Roman', serif" font-size="7.6" fill="#1a1a1a" stroke="#1a1a1a" stroke-width="0.2">RLE<tspan style="font-size:6.6px;font-style:italic;font-family:'Liberation Sans',Arial,sans-serif;" dy="1.8">cov</tspan></text>
<text x="629.1" y="600.06" font-family="'Liberation Serif', 'Times New Roman', serif" font-size="7.6" fill="#1a1a1a" stroke="#1a1a1a" stroke-width="0.2">TMM<tspan style="font-size:6.6px;font-style:italic;font-family:'Liberation Sans',Arial,sans-serif;" dy="1.8">cov</tspan></text>
<text x="629.1" y="611.59" font-family="'Liberation Serif', 'Times New Roman', serif" font-size="7.6" fill="#1a1a1a" stroke="#1a1a1a" stroke-width="0.2">FPKM</text>
<text x="629.1" y="623.12" font-family="'Liberation Serif', 'Times New Roman', serif" font-size="7.6" fill="#1a1a1a" stroke="#1a1a1a" stroke-width="0.2">FPKM<tspan style="font-size:6.6px;font-style:italic;font-family:'Liberation Sans',Arial,sans-serif;" dy="1.8">cov</tspan></text>
<text x="629.1" y="634.65" font-family="'Liberation Serif', 'Times New Roman', serif" font-size="7.6" fill="#1a1a1a" stroke="#1a1a1a" stroke-width="0.2">TPM</text>
<text x="629.1" y="646.18" font-family="'Liberation Serif', 'Times New Roman', serif" font-size="7.6" fill="#1a1a1a" stroke="#1a1a1a" stroke-width="0.2">TPM<tspan style="font-size:6.6px;font-style:italic;font-family:'Liberation Sans',Arial,sans-serif;" dy="1.8">cov</tspan></text>
<text x="629.1" y="657.71" font-family="'Liberation Serif', 'Times New Roman', serif" font-size="7.6" fill="#1a1a1a" stroke="#1a1a1a" stroke-width="0.2">GeTMM</text>
<text x="629.1" y="669.24" font-family="'Liberation Serif', 'Times New Roman', serif" font-size="7.6" fill="#1a1a1a" stroke="#1a1a1a" stroke-width="0.2">RLE</text>
<text x="629.1" y="680.77" font-family="'Liberation Serif', 'Times New Roman', serif" font-size="7.6" fill="#1a1a1a" stroke="#1a1a1a" stroke-width="0.2">TMM</text>
<text transform="translate(489.16 688.5) rotate(-50)" font-family="'Liberation Serif', 'Times New Roman', serif" font-size="7.1" fill="#1a1a1a" stroke="#1a1a1a" stroke-width="0.2" text-anchor="end">GeTMM<tspan style="font-size:6.2px;font-style:italic;font-family:'Liberation Sans',Arial,sans-serif;" dy="1.3">cov</tspan></text>
<text transform="translate(504.27 688.5) rotate(-50)" font-family="'Liberation Serif', 'Times New Roman', serif" font-size="7.1" fill="#1a1a1a" stroke="#1a1a1a" stroke-width="0.2" text-anchor="end">RLE<tspan style="font-size:6.2px;font-style:italic;font-family:'Liberation Sans',Arial,sans-serif;" dy="1.3">cov</tspan></text>
<text transform="translate(519.38 688.5) rotate(-50)" font-family="'Liberation Serif', 'Times New Roman', serif" font-size="7.1" fill="#1a1a1a" stroke="#1a1a1a" stroke-width="0.2" text-anchor="end">TMM<tspan style="font-size:6.2px;font-style:italic;font-family:'Liberation Sans',Arial,sans-serif;" dy="1.3">cov</tspan></text>
<text transform="translate(534.49 688.5) rotate(-50)" font-family="'Liberation Serif', 'Times New Roman', serif" font-size="7.1" fill="#1a1a1a" stroke="#1a1a1a" stroke-width="0.2" text-anchor="end">FPKM</text>
<text transform="translate(549.6 688.5) rotate(-50)" font-family="'Liberation Serif', 'Times New Roman', serif" font-size="7.1" fill="#1a1a1a" stroke="#1a1a1a" stroke-width="0.2" text-anchor="end">FPKM<tspan style="font-size:6.2px;font-style:italic;font-family:'Liberation Sans',Arial,sans-serif;" dy="1.3">cov</tspan></text>
<text transform="translate(564.71 688.5) rotate(-50)" font-family="'Liberation Serif', 'Times New Roman', serif" font-size="7.1" fill="#1a1a1a" stroke="#1a1a1a" stroke-width="0.2" text-anchor="end">TPM</text>
<text transform="translate(579.82 688.5) rotate(-50)" font-family="'Liberation Serif', 'Times New Roman', serif" font-size="7.1" fill="#1a1a1a" stroke="#1a1a1a" stroke-width="0.2" text-anchor="end">TPM<tspan style="font-size:6.2px;font-style:italic;font-family:'Liberation Sans',Arial,sans-serif;" dy="1.3">cov</tspan></text>
<text transform="translate(594.93 688.5) rotate(-50)" font-family="'Liberation Serif', 'Times New Roman', serif" font-size="7.1" fill="#1a1a1a" stroke="#1a1a1a" stroke-width="0.2" text-anchor="end">GeTMM</text>
<text transform="translate(610.03 688.5) rotate(-50)" font-family="'Liberation Serif', 'Times New Roman', serif" font-size="7.1" fill="#1a1a1a" stroke="#1a1a1a" stroke-width="0.2" text-anchor="end">RLE</text>
<text transform="translate(625.14 688.5) rotate(-50)" font-family="'Liberation Serif', 'Times New Roman', serif" font-size="7.1" fill="#1a1a1a" stroke="#1a1a1a" stroke-width="0.2" text-anchor="end">TMM</text>
<rect x="668.2" y="570" width="2.7" height="5.26" fill="#6b2518"/>
<rect x="668.2" y="575.21" width="2.7" height="5.26" fill="#ad4b17"/>
<rect x="668.2" y="580.43" width="2.7" height="5.26" fill="#df7622"/>
<rect x="668.2" y="585.64" width="2.7" height="5.26" fill="#e2a42d"/>
<rect x="668.2" y="590.86" width="2.7" height="5.26" fill="#e7cb6a"/>
<rect x="668.2" y="596.07" width="2.7" height="5.26" fill="#f2edbc"/>
<rect x="668.2" y="601.29" width="2.7" height="5.26" fill="#f8fde5"/>
<text x="671.9" y="571.9" font-size="2.6" fill="#555">1</text>
<text x="671.9" y="578.53" font-size="2.6" fill="#555">0.8</text>
<text x="671.9" y="585.17" font-size="2.6" fill="#555">0.6</text>
<text x="671.9" y="591.8" font-size="2.6" fill="#555">0.4</text>
<text x="671.9" y="598.44" font-size="2.6" fill="#555">0.2</text>
<text x="671.9" y="605.07" font-size="2.6" fill="#555">0</text>
</svg></body></html>
